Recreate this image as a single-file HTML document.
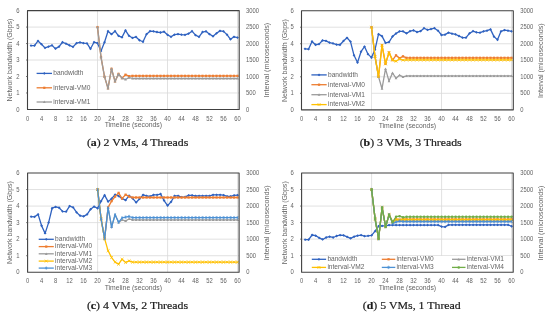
<!DOCTYPE html>
<html><head><meta charset="utf-8"><title>Interval and bandwidth charts</title>
<style>html,body{margin:0;padding:0;background:#fff;}body{width:550px;height:318px;overflow:hidden;}svg{display:block;}</style>
</head><body>
<svg width="550" height="318" viewBox="0 0 550 318"><path d="M27.5 92.97H239.2 M27.5 76.5H239.2 M27.5 60.02H239.2 M27.5 43.55H239.2 M27.5 27.08H239.2 M97.5 10.6V109.45 M167.5 10.6V109.45 M237.5 10.6V109.45" stroke="#d9d9d9" stroke-width="0.8" fill="none"/>
<path d="M31 45.53 L34.5 45.53 L38 40.91 L41.5 44.21 L45 47.83 L48.5 46.68 L52 45.36 L55.5 48.66 L59 46.68 L62.5 42.23 L66 43.71 L69.5 45.36 L73 46.84 L76.5 43.22 L80 42.4 L83.5 43.22 L87 43.39 L90.5 48.82 L94 42.23 L97.5 43.22 L101 50.96 L104.5 42.23 L108 31.19 L111.5 34.16 L115 31.19 L118.5 35.81 L122 37.29 L125.5 30.37 L129 35.81 L132.5 37.95 L136 36.96 L139.5 40.25 L143 41.74 L146.5 34.16 L150 31.19 L153.5 31.36 L157 32.02 L160.5 32.51 L164 31.69 L167.5 34.82 L171 36.8 L174.5 34.65 L178 34.16 L181.5 34.65 L185 34.82 L188.5 33.67 L192 31.19 L195.5 35.15 L199 36.8 L202.5 32.02 L206 31.36 L209.5 34.16 L213 36.3 L216.5 33.34 L220 30.86 L223.5 31.36 L227 34.65 L230.5 39.27 L234 36.8 L237.5 37.62" stroke="#2f62c0" stroke-width="1.3" fill="none" stroke-linejoin="round"/>
<path d="M31 44.13L32.4 45.53L31 46.93L29.6 45.53Z" fill="#2f62c0"/><path d="M34.5 44.13L35.9 45.53L34.5 46.93L33.1 45.53Z" fill="#2f62c0"/><path d="M38 39.51L39.4 40.91L38 42.31L36.6 40.91Z" fill="#2f62c0"/><path d="M41.5 42.81L42.9 44.21L41.5 45.61L40.1 44.21Z" fill="#2f62c0"/><path d="M45 46.43L46.4 47.83L45 49.23L43.6 47.83Z" fill="#2f62c0"/><path d="M48.5 45.28L49.9 46.68L48.5 48.08L47.1 46.68Z" fill="#2f62c0"/><path d="M52 43.96L53.4 45.36L52 46.76L50.6 45.36Z" fill="#2f62c0"/><path d="M55.5 47.26L56.9 48.66L55.5 50.06L54.1 48.66Z" fill="#2f62c0"/><path d="M59 45.28L60.4 46.68L59 48.08L57.6 46.68Z" fill="#2f62c0"/><path d="M62.5 40.83L63.9 42.23L62.5 43.63L61.1 42.23Z" fill="#2f62c0"/><path d="M66 42.31L67.4 43.71L66 45.11L64.6 43.71Z" fill="#2f62c0"/><path d="M69.5 43.96L70.9 45.36L69.5 46.76L68.1 45.36Z" fill="#2f62c0"/><path d="M73 45.45L74.4 46.84L73 48.24L71.6 46.84Z" fill="#2f62c0"/><path d="M76.5 41.82L77.9 43.22L76.5 44.62L75.1 43.22Z" fill="#2f62c0"/><path d="M80 41L81.4 42.4L80 43.8L78.6 42.4Z" fill="#2f62c0"/><path d="M83.5 41.82L84.9 43.22L83.5 44.62L82.1 43.22Z" fill="#2f62c0"/><path d="M87 41.99L88.4 43.39L87 44.79L85.6 43.39Z" fill="#2f62c0"/><path d="M90.5 47.42L91.9 48.82L90.5 50.22L89.1 48.82Z" fill="#2f62c0"/><path d="M94 40.83L95.4 42.23L94 43.63L92.6 42.23Z" fill="#2f62c0"/><path d="M97.5 41.82L98.9 43.22L97.5 44.62L96.1 43.22Z" fill="#2f62c0"/><path d="M101 49.56L102.4 50.96L101 52.36L99.6 50.96Z" fill="#2f62c0"/><path d="M104.5 40.83L105.9 42.23L104.5 43.63L103.1 42.23Z" fill="#2f62c0"/><path d="M108 29.79L109.4 31.19L108 32.59L106.6 31.19Z" fill="#2f62c0"/><path d="M111.5 32.76L112.9 34.16L111.5 35.56L110.1 34.16Z" fill="#2f62c0"/><path d="M115 29.79L116.4 31.19L115 32.59L113.6 31.19Z" fill="#2f62c0"/><path d="M118.5 34.41L119.9 35.81L118.5 37.21L117.1 35.81Z" fill="#2f62c0"/><path d="M122 35.89L123.4 37.29L122 38.69L120.6 37.29Z" fill="#2f62c0"/><path d="M125.5 28.97L126.9 30.37L125.5 31.77L124.1 30.37Z" fill="#2f62c0"/><path d="M129 34.41L130.4 35.81L129 37.21L127.6 35.81Z" fill="#2f62c0"/><path d="M132.5 36.55L133.9 37.95L132.5 39.35L131.1 37.95Z" fill="#2f62c0"/><path d="M136 35.56L137.4 36.96L136 38.36L134.6 36.96Z" fill="#2f62c0"/><path d="M139.5 38.85L140.9 40.25L139.5 41.65L138.1 40.25Z" fill="#2f62c0"/><path d="M143 40.34L144.4 41.74L143 43.14L141.6 41.74Z" fill="#2f62c0"/><path d="M146.5 32.76L147.9 34.16L146.5 35.56L145.1 34.16Z" fill="#2f62c0"/><path d="M150 29.79L151.4 31.19L150 32.59L148.6 31.19Z" fill="#2f62c0"/><path d="M153.5 29.96L154.9 31.36L153.5 32.76L152.1 31.36Z" fill="#2f62c0"/><path d="M157 30.62L158.4 32.02L157 33.42L155.6 32.02Z" fill="#2f62c0"/><path d="M160.5 31.11L161.9 32.51L160.5 33.91L159.1 32.51Z" fill="#2f62c0"/><path d="M164 30.29L165.4 31.69L164 33.09L162.6 31.69Z" fill="#2f62c0"/><path d="M167.5 33.42L168.9 34.82L167.5 36.22L166.1 34.82Z" fill="#2f62c0"/><path d="M171 35.4L172.4 36.8L171 38.2L169.6 36.8Z" fill="#2f62c0"/><path d="M174.5 33.25L175.9 34.65L174.5 36.05L173.1 34.65Z" fill="#2f62c0"/><path d="M178 32.76L179.4 34.16L178 35.56L176.6 34.16Z" fill="#2f62c0"/><path d="M181.5 33.25L182.9 34.65L181.5 36.05L180.1 34.65Z" fill="#2f62c0"/><path d="M185 33.42L186.4 34.82L185 36.22L183.6 34.82Z" fill="#2f62c0"/><path d="M188.5 32.27L189.9 33.67L188.5 35.07L187.1 33.67Z" fill="#2f62c0"/><path d="M192 29.79L193.4 31.19L192 32.59L190.6 31.19Z" fill="#2f62c0"/><path d="M195.5 33.75L196.9 35.15L195.5 36.55L194.1 35.15Z" fill="#2f62c0"/><path d="M199 35.4L200.4 36.8L199 38.2L197.6 36.8Z" fill="#2f62c0"/><path d="M202.5 30.62L203.9 32.02L202.5 33.42L201.1 32.02Z" fill="#2f62c0"/><path d="M206 29.96L207.4 31.36L206 32.76L204.6 31.36Z" fill="#2f62c0"/><path d="M209.5 32.76L210.9 34.16L209.5 35.56L208.1 34.16Z" fill="#2f62c0"/><path d="M213 34.9L214.4 36.3L213 37.7L211.6 36.3Z" fill="#2f62c0"/><path d="M216.5 31.94L217.9 33.34L216.5 34.74L215.1 33.34Z" fill="#2f62c0"/><path d="M220 29.46L221.4 30.86L220 32.26L218.6 30.86Z" fill="#2f62c0"/><path d="M223.5 29.96L224.9 31.36L223.5 32.76L222.1 31.36Z" fill="#2f62c0"/><path d="M227 33.25L228.4 34.65L227 36.05L225.6 34.65Z" fill="#2f62c0"/><path d="M230.5 37.87L231.9 39.27L230.5 40.67L229.1 39.27Z" fill="#2f62c0"/><path d="M234 35.4L235.4 36.8L234 38.2L232.6 36.8Z" fill="#2f62c0"/><path d="M237.5 36.22L238.9 37.62L237.5 39.02L236.1 37.62Z" fill="#2f62c0"/>
<path d="M97.5 27.08 L101 57.06 L104.5 76.66 L108 88.36 L111.5 68.76 L115 81.44 L118.5 73.86 L122 78.15 L125.5 74.69 L129 76.17 L132.5 75.84 L136 75.84 L139.5 75.84 L143 75.84 L146.5 75.84 L150 75.84 L153.5 75.84 L157 75.84 L160.5 75.84 L164 75.84 L167.5 75.84 L171 75.84 L174.5 75.84 L178 75.84 L181.5 75.84 L185 75.84 L188.5 75.84 L192 75.84 L195.5 75.84 L199 75.84 L202.5 75.84 L206 75.84 L209.5 75.84 L213 75.84 L216.5 75.84 L220 75.84 L223.5 75.84 L227 75.84 L230.5 75.84 L234 75.84 L237.5 75.84" stroke="#ed7d31" stroke-width="1.3" fill="none" stroke-linejoin="round"/>
<rect x="96.38" y="25.96" width="2.24" height="2.24" fill="#ed7d31"/><rect x="99.88" y="55.94" width="2.24" height="2.24" fill="#ed7d31"/><rect x="103.38" y="75.54" width="2.24" height="2.24" fill="#ed7d31"/><rect x="106.88" y="87.24" width="2.24" height="2.24" fill="#ed7d31"/><rect x="110.38" y="67.64" width="2.24" height="2.24" fill="#ed7d31"/><rect x="113.88" y="80.32" width="2.24" height="2.24" fill="#ed7d31"/><rect x="117.38" y="72.74" width="2.24" height="2.24" fill="#ed7d31"/><rect x="120.88" y="77.03" width="2.24" height="2.24" fill="#ed7d31"/><rect x="124.38" y="73.57" width="2.24" height="2.24" fill="#ed7d31"/><rect x="127.88" y="75.05" width="2.24" height="2.24" fill="#ed7d31"/><rect x="131.38" y="74.72" width="2.24" height="2.24" fill="#ed7d31"/><rect x="134.88" y="74.72" width="2.24" height="2.24" fill="#ed7d31"/><rect x="138.38" y="74.72" width="2.24" height="2.24" fill="#ed7d31"/><rect x="141.88" y="74.72" width="2.24" height="2.24" fill="#ed7d31"/><rect x="145.38" y="74.72" width="2.24" height="2.24" fill="#ed7d31"/><rect x="148.88" y="74.72" width="2.24" height="2.24" fill="#ed7d31"/><rect x="152.38" y="74.72" width="2.24" height="2.24" fill="#ed7d31"/><rect x="155.88" y="74.72" width="2.24" height="2.24" fill="#ed7d31"/><rect x="159.38" y="74.72" width="2.24" height="2.24" fill="#ed7d31"/><rect x="162.88" y="74.72" width="2.24" height="2.24" fill="#ed7d31"/><rect x="166.38" y="74.72" width="2.24" height="2.24" fill="#ed7d31"/><rect x="169.88" y="74.72" width="2.24" height="2.24" fill="#ed7d31"/><rect x="173.38" y="74.72" width="2.24" height="2.24" fill="#ed7d31"/><rect x="176.88" y="74.72" width="2.24" height="2.24" fill="#ed7d31"/><rect x="180.38" y="74.72" width="2.24" height="2.24" fill="#ed7d31"/><rect x="183.88" y="74.72" width="2.24" height="2.24" fill="#ed7d31"/><rect x="187.38" y="74.72" width="2.24" height="2.24" fill="#ed7d31"/><rect x="190.88" y="74.72" width="2.24" height="2.24" fill="#ed7d31"/><rect x="194.38" y="74.72" width="2.24" height="2.24" fill="#ed7d31"/><rect x="197.88" y="74.72" width="2.24" height="2.24" fill="#ed7d31"/><rect x="201.38" y="74.72" width="2.24" height="2.24" fill="#ed7d31"/><rect x="204.88" y="74.72" width="2.24" height="2.24" fill="#ed7d31"/><rect x="208.38" y="74.72" width="2.24" height="2.24" fill="#ed7d31"/><rect x="211.88" y="74.72" width="2.24" height="2.24" fill="#ed7d31"/><rect x="215.38" y="74.72" width="2.24" height="2.24" fill="#ed7d31"/><rect x="218.88" y="74.72" width="2.24" height="2.24" fill="#ed7d31"/><rect x="222.38" y="74.72" width="2.24" height="2.24" fill="#ed7d31"/><rect x="225.88" y="74.72" width="2.24" height="2.24" fill="#ed7d31"/><rect x="229.38" y="74.72" width="2.24" height="2.24" fill="#ed7d31"/><rect x="232.88" y="74.72" width="2.24" height="2.24" fill="#ed7d31"/><rect x="236.38" y="74.72" width="2.24" height="2.24" fill="#ed7d31"/>
<path d="M97.5 27.08 L101 57.06 L104.5 76.66 L108 88.36 L111.5 68.76 L115 81.44 L118.5 73.86 L122 78.15 L125.5 79.47 L129 77.65 L132.5 78.48 L136 78.48 L139.5 78.48 L143 78.48 L146.5 78.48 L150 78.48 L153.5 78.48 L157 78.48 L160.5 78.48 L164 78.48 L167.5 78.48 L171 78.48 L174.5 78.48 L178 78.48 L181.5 78.48 L185 78.48 L188.5 78.48 L192 78.48 L195.5 78.48 L199 78.48 L202.5 78.48 L206 78.48 L209.5 78.48 L213 78.48 L216.5 78.48 L220 78.48 L223.5 78.48 L227 78.48 L230.5 78.48 L234 78.48 L237.5 78.48" stroke="#9b9b9b" stroke-width="1.3" fill="none" stroke-linejoin="round"/>
<path d="M97.5 25.68L98.9 28.2L96.1 28.2Z" fill="#9b9b9b"/><path d="M101 55.66L102.4 58.18L99.6 58.18Z" fill="#9b9b9b"/><path d="M104.5 75.26L105.9 77.78L103.1 77.78Z" fill="#9b9b9b"/><path d="M108 86.96L109.4 89.48L106.6 89.48Z" fill="#9b9b9b"/><path d="M111.5 67.36L112.9 69.88L110.1 69.88Z" fill="#9b9b9b"/><path d="M115 80.04L116.4 82.56L113.6 82.56Z" fill="#9b9b9b"/><path d="M118.5 72.46L119.9 74.98L117.1 74.98Z" fill="#9b9b9b"/><path d="M122 76.75L123.4 79.27L120.6 79.27Z" fill="#9b9b9b"/><path d="M125.5 78.07L126.9 80.59L124.1 80.59Z" fill="#9b9b9b"/><path d="M129 76.25L130.4 78.77L127.6 78.77Z" fill="#9b9b9b"/><path d="M132.5 77.08L133.9 79.6L131.1 79.6Z" fill="#9b9b9b"/><path d="M136 77.08L137.4 79.6L134.6 79.6Z" fill="#9b9b9b"/><path d="M139.5 77.08L140.9 79.6L138.1 79.6Z" fill="#9b9b9b"/><path d="M143 77.08L144.4 79.6L141.6 79.6Z" fill="#9b9b9b"/><path d="M146.5 77.08L147.9 79.6L145.1 79.6Z" fill="#9b9b9b"/><path d="M150 77.08L151.4 79.6L148.6 79.6Z" fill="#9b9b9b"/><path d="M153.5 77.08L154.9 79.6L152.1 79.6Z" fill="#9b9b9b"/><path d="M157 77.08L158.4 79.6L155.6 79.6Z" fill="#9b9b9b"/><path d="M160.5 77.08L161.9 79.6L159.1 79.6Z" fill="#9b9b9b"/><path d="M164 77.08L165.4 79.6L162.6 79.6Z" fill="#9b9b9b"/><path d="M167.5 77.08L168.9 79.6L166.1 79.6Z" fill="#9b9b9b"/><path d="M171 77.08L172.4 79.6L169.6 79.6Z" fill="#9b9b9b"/><path d="M174.5 77.08L175.9 79.6L173.1 79.6Z" fill="#9b9b9b"/><path d="M178 77.08L179.4 79.6L176.6 79.6Z" fill="#9b9b9b"/><path d="M181.5 77.08L182.9 79.6L180.1 79.6Z" fill="#9b9b9b"/><path d="M185 77.08L186.4 79.6L183.6 79.6Z" fill="#9b9b9b"/><path d="M188.5 77.08L189.9 79.6L187.1 79.6Z" fill="#9b9b9b"/><path d="M192 77.08L193.4 79.6L190.6 79.6Z" fill="#9b9b9b"/><path d="M195.5 77.08L196.9 79.6L194.1 79.6Z" fill="#9b9b9b"/><path d="M199 77.08L200.4 79.6L197.6 79.6Z" fill="#9b9b9b"/><path d="M202.5 77.08L203.9 79.6L201.1 79.6Z" fill="#9b9b9b"/><path d="M206 77.08L207.4 79.6L204.6 79.6Z" fill="#9b9b9b"/><path d="M209.5 77.08L210.9 79.6L208.1 79.6Z" fill="#9b9b9b"/><path d="M213 77.08L214.4 79.6L211.6 79.6Z" fill="#9b9b9b"/><path d="M216.5 77.08L217.9 79.6L215.1 79.6Z" fill="#9b9b9b"/><path d="M220 77.08L221.4 79.6L218.6 79.6Z" fill="#9b9b9b"/><path d="M223.5 77.08L224.9 79.6L222.1 79.6Z" fill="#9b9b9b"/><path d="M227 77.08L228.4 79.6L225.6 79.6Z" fill="#9b9b9b"/><path d="M230.5 77.08L231.9 79.6L229.1 79.6Z" fill="#9b9b9b"/><path d="M234 77.08L235.4 79.6L232.6 79.6Z" fill="#9b9b9b"/><path d="M237.5 77.08L238.9 79.6L236.1 79.6Z" fill="#9b9b9b"/>
<rect x="28" y="64" width="69" height="44.6" fill="#fff"/>
<path d="M36.6 73.4H52" stroke="#2f62c0" stroke-width="1.3"/>
<path d="M44.3 72L45.7 73.4L44.3 74.8L42.9 73.4Z" fill="#2f62c0"/>
<text x="53.3" y="75.2" font-size="6.3" text-anchor="start" fill="#646464" font-family="'Liberation Sans', Arial, sans-serif" textLength="30" lengthAdjust="spacingAndGlyphs">bandwidth</text>
<path d="M36.6 87.8H52" stroke="#ed7d31" stroke-width="1.3"/>
<rect x="43.18" y="86.68" width="2.24" height="2.24" fill="#ed7d31"/>
<text x="53.3" y="89.6" font-size="6.3" text-anchor="start" fill="#646464" font-family="'Liberation Sans', Arial, sans-serif" textLength="37" lengthAdjust="spacingAndGlyphs">interval-VM0</text>
<path d="M36.6 102H52" stroke="#9b9b9b" stroke-width="1.3"/>
<path d="M44.3 100.6L45.7 103.12L42.9 103.12Z" fill="#9b9b9b"/>
<text x="53.3" y="103.8" font-size="6.3" text-anchor="start" fill="#646464" font-family="'Liberation Sans', Arial, sans-serif" textLength="37" lengthAdjust="spacingAndGlyphs">interval-VM1</text>
<rect x="27.5" y="10.6" width="211.7" height="98.85" fill="none" stroke="#404040" stroke-width="1.1" stroke-linejoin="round"/>
<path d="M26 92.97H27.5 M26 76.5H27.5 M26 60.02H27.5 M26 43.55H27.5 M26 27.08H27.5" stroke="#595959" stroke-width="0.8"/>
<text x="19.6" y="111.6" font-size="6.7" text-anchor="end" fill="#646464" font-family="'Liberation Sans', Arial, sans-serif" textLength="3.3" lengthAdjust="spacingAndGlyphs">0</text>
<text x="19.6" y="95.12" font-size="6.7" text-anchor="end" fill="#646464" font-family="'Liberation Sans', Arial, sans-serif" textLength="3.3" lengthAdjust="spacingAndGlyphs">1</text>
<text x="19.6" y="78.65" font-size="6.7" text-anchor="end" fill="#646464" font-family="'Liberation Sans', Arial, sans-serif" textLength="3.3" lengthAdjust="spacingAndGlyphs">2</text>
<text x="19.6" y="62.17" font-size="6.7" text-anchor="end" fill="#646464" font-family="'Liberation Sans', Arial, sans-serif" textLength="3.3" lengthAdjust="spacingAndGlyphs">3</text>
<text x="19.6" y="45.7" font-size="6.7" text-anchor="end" fill="#646464" font-family="'Liberation Sans', Arial, sans-serif" textLength="3.3" lengthAdjust="spacingAndGlyphs">4</text>
<text x="19.6" y="29.23" font-size="6.7" text-anchor="end" fill="#646464" font-family="'Liberation Sans', Arial, sans-serif" textLength="3.3" lengthAdjust="spacingAndGlyphs">5</text>
<text x="19.6" y="12.75" font-size="6.7" text-anchor="end" fill="#646464" font-family="'Liberation Sans', Arial, sans-serif" textLength="3.3" lengthAdjust="spacingAndGlyphs">6</text>
<text x="245.9" y="111.6" font-size="6.7" text-anchor="start" fill="#646464" font-family="'Liberation Sans', Arial, sans-serif" textLength="3.25" lengthAdjust="spacingAndGlyphs">0</text>
<text x="245.9" y="95.12" font-size="6.7" text-anchor="start" fill="#646464" font-family="'Liberation Sans', Arial, sans-serif" textLength="9.75" lengthAdjust="spacingAndGlyphs">500</text>
<text x="245.9" y="78.65" font-size="6.7" text-anchor="start" fill="#646464" font-family="'Liberation Sans', Arial, sans-serif" textLength="13" lengthAdjust="spacingAndGlyphs">1000</text>
<text x="245.9" y="62.17" font-size="6.7" text-anchor="start" fill="#646464" font-family="'Liberation Sans', Arial, sans-serif" textLength="13" lengthAdjust="spacingAndGlyphs">1500</text>
<text x="245.9" y="45.7" font-size="6.7" text-anchor="start" fill="#646464" font-family="'Liberation Sans', Arial, sans-serif" textLength="13" lengthAdjust="spacingAndGlyphs">2000</text>
<text x="245.9" y="29.23" font-size="6.7" text-anchor="start" fill="#646464" font-family="'Liberation Sans', Arial, sans-serif" textLength="13" lengthAdjust="spacingAndGlyphs">2500</text>
<text x="245.9" y="12.75" font-size="6.7" text-anchor="start" fill="#646464" font-family="'Liberation Sans', Arial, sans-serif" textLength="13" lengthAdjust="spacingAndGlyphs">3000</text>
<text x="27.5" y="120.9" font-size="6.4" text-anchor="middle" fill="#646464" font-family="'Liberation Sans', Arial, sans-serif" textLength="3.25" lengthAdjust="spacingAndGlyphs">0</text>
<text x="41.5" y="120.9" font-size="6.4" text-anchor="middle" fill="#646464" font-family="'Liberation Sans', Arial, sans-serif" textLength="3.25" lengthAdjust="spacingAndGlyphs">4</text>
<text x="55.5" y="120.9" font-size="6.4" text-anchor="middle" fill="#646464" font-family="'Liberation Sans', Arial, sans-serif" textLength="3.25" lengthAdjust="spacingAndGlyphs">8</text>
<text x="69.5" y="120.9" font-size="6.4" text-anchor="middle" fill="#646464" font-family="'Liberation Sans', Arial, sans-serif" textLength="6.5" lengthAdjust="spacingAndGlyphs">12</text>
<text x="83.5" y="120.9" font-size="6.4" text-anchor="middle" fill="#646464" font-family="'Liberation Sans', Arial, sans-serif" textLength="6.5" lengthAdjust="spacingAndGlyphs">16</text>
<text x="97.5" y="120.9" font-size="6.4" text-anchor="middle" fill="#646464" font-family="'Liberation Sans', Arial, sans-serif" textLength="6.5" lengthAdjust="spacingAndGlyphs">20</text>
<text x="111.5" y="120.9" font-size="6.4" text-anchor="middle" fill="#646464" font-family="'Liberation Sans', Arial, sans-serif" textLength="6.5" lengthAdjust="spacingAndGlyphs">24</text>
<text x="125.5" y="120.9" font-size="6.4" text-anchor="middle" fill="#646464" font-family="'Liberation Sans', Arial, sans-serif" textLength="6.5" lengthAdjust="spacingAndGlyphs">28</text>
<text x="139.5" y="120.9" font-size="6.4" text-anchor="middle" fill="#646464" font-family="'Liberation Sans', Arial, sans-serif" textLength="6.5" lengthAdjust="spacingAndGlyphs">32</text>
<text x="153.5" y="120.9" font-size="6.4" text-anchor="middle" fill="#646464" font-family="'Liberation Sans', Arial, sans-serif" textLength="6.5" lengthAdjust="spacingAndGlyphs">36</text>
<text x="167.5" y="120.9" font-size="6.4" text-anchor="middle" fill="#646464" font-family="'Liberation Sans', Arial, sans-serif" textLength="6.5" lengthAdjust="spacingAndGlyphs">40</text>
<text x="181.5" y="120.9" font-size="6.4" text-anchor="middle" fill="#646464" font-family="'Liberation Sans', Arial, sans-serif" textLength="6.5" lengthAdjust="spacingAndGlyphs">44</text>
<text x="195.5" y="120.9" font-size="6.4" text-anchor="middle" fill="#646464" font-family="'Liberation Sans', Arial, sans-serif" textLength="6.5" lengthAdjust="spacingAndGlyphs">48</text>
<text x="209.5" y="120.9" font-size="6.4" text-anchor="middle" fill="#646464" font-family="'Liberation Sans', Arial, sans-serif" textLength="6.5" lengthAdjust="spacingAndGlyphs">52</text>
<text x="223.5" y="120.9" font-size="6.4" text-anchor="middle" fill="#646464" font-family="'Liberation Sans', Arial, sans-serif" textLength="6.5" lengthAdjust="spacingAndGlyphs">56</text>
<text x="237.5" y="120.9" font-size="6.4" text-anchor="middle" fill="#646464" font-family="'Liberation Sans', Arial, sans-serif" textLength="6.5" lengthAdjust="spacingAndGlyphs">60</text>
<text x="133.35" y="127" font-size="7.2" text-anchor="middle" fill="#646464" font-family="'Liberation Sans', Arial, sans-serif" textLength="57.4" lengthAdjust="spacingAndGlyphs">Timeline (seconds)</text>
<text transform="translate(12.4 60.1) rotate(-90)" x="0" y="0" font-size="6.6" text-anchor="middle" fill="#646464" font-family="'Liberation Sans', Arial, sans-serif" textLength="83" lengthAdjust="spacingAndGlyphs">Network bandwidth (Gbps)</text>
<text transform="translate(269.3 60.2) rotate(-90)" x="0" y="0" font-size="6.6" text-anchor="middle" fill="#646464" font-family="'Liberation Sans', Arial, sans-serif" textLength="74.8" lengthAdjust="spacingAndGlyphs">Interval (microseconds)</text>
<text x="86.9" y="146.1" font-size="10.6" fill="#1a1a1a" stroke="#1a1a1a" stroke-width="0.18" font-family="'Liberation Serif', 'Times New Roman', serif" textLength="101.4" lengthAdjust="spacingAndGlyphs">(<tspan font-weight="bold">a</tspan>) 2 VMs, 4 Threads</text>
<path d="M301.5 93.32H513.3 M301.5 76.8H513.3 M301.5 60.27H513.3 M301.5 43.75H513.3 M301.5 27.22H513.3 M371.5 10.7V109.85 M441.5 10.7V109.85 M511.5 10.7V109.85" stroke="#d9d9d9" stroke-width="0.8" fill="none"/>
<path d="M305 48.87 L308.5 49.2 L312 41.44 L315.5 44.74 L319 44.08 L322.5 40.44 L326 40.94 L329.5 42.59 L333 43.42 L336.5 44.58 L340 44.74 L343.5 40.94 L347 37.8 L350.5 41.6 L354 55.32 L357.5 62.59 L361 51.68 L364.5 46.56 L368 54.16 L371.5 57.63 L375 49.53 L378.5 34.17 L382 36.15 L385.5 42.92 L389 42.1 L392.5 36.48 L396 33.5 L399.5 31.36 L403 31.36 L406.5 33.34 L410 31.19 L413.5 30.36 L417 32.02 L420.5 31.19 L424 28.22 L427.5 29.87 L431 29.04 L434.5 28.22 L438 30.7 L441.5 34.99 L445 34.66 L448.5 32.68 L452 33.67 L455.5 34.33 L459 35.98 L462.5 37.64 L466 37.64 L469.5 33.34 L473 31.19 L476.5 32.35 L480 32.68 L483.5 31.36 L487 30.7 L490.5 29.37 L494 36.64 L497.5 39.78 L501 31.36 L504.5 30.03 L508 30.7 L511.5 31.36" stroke="#2f62c0" stroke-width="1.3" fill="none" stroke-linejoin="round"/>
<path d="M305 47.47L306.4 48.87L305 50.27L303.6 48.87Z" fill="#2f62c0"/><path d="M308.5 47.8L309.9 49.2L308.5 50.6L307.1 49.2Z" fill="#2f62c0"/><path d="M312 40.04L313.4 41.44L312 42.84L310.6 41.44Z" fill="#2f62c0"/><path d="M315.5 43.34L316.9 44.74L315.5 46.14L314.1 44.74Z" fill="#2f62c0"/><path d="M319 42.68L320.4 44.08L319 45.48L317.6 44.08Z" fill="#2f62c0"/><path d="M322.5 39.04L323.9 40.44L322.5 41.84L321.1 40.44Z" fill="#2f62c0"/><path d="M326 39.54L327.4 40.94L326 42.34L324.6 40.94Z" fill="#2f62c0"/><path d="M329.5 41.19L330.9 42.59L329.5 43.99L328.1 42.59Z" fill="#2f62c0"/><path d="M333 42.02L334.4 43.42L333 44.82L331.6 43.42Z" fill="#2f62c0"/><path d="M336.5 43.18L337.9 44.58L336.5 45.98L335.1 44.58Z" fill="#2f62c0"/><path d="M340 43.34L341.4 44.74L340 46.14L338.6 44.74Z" fill="#2f62c0"/><path d="M343.5 39.54L344.9 40.94L343.5 42.34L342.1 40.94Z" fill="#2f62c0"/><path d="M347 36.4L348.4 37.8L347 39.2L345.6 37.8Z" fill="#2f62c0"/><path d="M350.5 40.2L351.9 41.6L350.5 43L349.1 41.6Z" fill="#2f62c0"/><path d="M354 53.92L355.4 55.32L354 56.72L352.6 55.32Z" fill="#2f62c0"/><path d="M357.5 61.19L358.9 62.59L357.5 63.99L356.1 62.59Z" fill="#2f62c0"/><path d="M361 50.28L362.4 51.68L361 53.08L359.6 51.68Z" fill="#2f62c0"/><path d="M364.5 45.16L365.9 46.56L364.5 47.96L363.1 46.56Z" fill="#2f62c0"/><path d="M368 52.76L369.4 54.16L368 55.56L366.6 54.16Z" fill="#2f62c0"/><path d="M371.5 56.23L372.9 57.63L371.5 59.03L370.1 57.63Z" fill="#2f62c0"/><path d="M375 48.13L376.4 49.53L375 50.93L373.6 49.53Z" fill="#2f62c0"/><path d="M378.5 32.77L379.9 34.17L378.5 35.57L377.1 34.17Z" fill="#2f62c0"/><path d="M382 34.75L383.4 36.15L382 37.55L380.6 36.15Z" fill="#2f62c0"/><path d="M385.5 41.52L386.9 42.92L385.5 44.32L384.1 42.92Z" fill="#2f62c0"/><path d="M389 40.7L390.4 42.1L389 43.5L387.6 42.1Z" fill="#2f62c0"/><path d="M392.5 35.08L393.9 36.48L392.5 37.88L391.1 36.48Z" fill="#2f62c0"/><path d="M396 32.1L397.4 33.5L396 34.9L394.6 33.5Z" fill="#2f62c0"/><path d="M399.5 29.96L400.9 31.36L399.5 32.76L398.1 31.36Z" fill="#2f62c0"/><path d="M403 29.96L404.4 31.36L403 32.76L401.6 31.36Z" fill="#2f62c0"/><path d="M406.5 31.94L407.9 33.34L406.5 34.74L405.1 33.34Z" fill="#2f62c0"/><path d="M410 29.79L411.4 31.19L410 32.59L408.6 31.19Z" fill="#2f62c0"/><path d="M413.5 28.96L414.9 30.36L413.5 31.76L412.1 30.36Z" fill="#2f62c0"/><path d="M417 30.62L418.4 32.02L417 33.42L415.6 32.02Z" fill="#2f62c0"/><path d="M420.5 29.79L421.9 31.19L420.5 32.59L419.1 31.19Z" fill="#2f62c0"/><path d="M424 26.82L425.4 28.22L424 29.62L422.6 28.22Z" fill="#2f62c0"/><path d="M427.5 28.47L428.9 29.87L427.5 31.27L426.1 29.87Z" fill="#2f62c0"/><path d="M431 27.64L432.4 29.04L431 30.44L429.6 29.04Z" fill="#2f62c0"/><path d="M434.5 26.82L435.9 28.22L434.5 29.62L433.1 28.22Z" fill="#2f62c0"/><path d="M438 29.3L439.4 30.7L438 32.1L436.6 30.7Z" fill="#2f62c0"/><path d="M441.5 33.59L442.9 34.99L441.5 36.39L440.1 34.99Z" fill="#2f62c0"/><path d="M445 33.26L446.4 34.66L445 36.06L443.6 34.66Z" fill="#2f62c0"/><path d="M448.5 31.28L449.9 32.68L448.5 34.08L447.1 32.68Z" fill="#2f62c0"/><path d="M452 32.27L453.4 33.67L452 35.07L450.6 33.67Z" fill="#2f62c0"/><path d="M455.5 32.93L456.9 34.33L455.5 35.73L454.1 34.33Z" fill="#2f62c0"/><path d="M459 34.58L460.4 35.98L459 37.38L457.6 35.98Z" fill="#2f62c0"/><path d="M462.5 36.24L463.9 37.64L462.5 39.04L461.1 37.64Z" fill="#2f62c0"/><path d="M466 36.24L467.4 37.64L466 39.04L464.6 37.64Z" fill="#2f62c0"/><path d="M469.5 31.94L470.9 33.34L469.5 34.74L468.1 33.34Z" fill="#2f62c0"/><path d="M473 29.79L474.4 31.19L473 32.59L471.6 31.19Z" fill="#2f62c0"/><path d="M476.5 30.95L477.9 32.35L476.5 33.75L475.1 32.35Z" fill="#2f62c0"/><path d="M480 31.28L481.4 32.68L480 34.08L478.6 32.68Z" fill="#2f62c0"/><path d="M483.5 29.96L484.9 31.36L483.5 32.76L482.1 31.36Z" fill="#2f62c0"/><path d="M487 29.3L488.4 30.7L487 32.1L485.6 30.7Z" fill="#2f62c0"/><path d="M490.5 27.97L491.9 29.37L490.5 30.77L489.1 29.37Z" fill="#2f62c0"/><path d="M494 35.24L495.4 36.64L494 38.04L492.6 36.64Z" fill="#2f62c0"/><path d="M497.5 38.38L498.9 39.78L497.5 41.18L496.1 39.78Z" fill="#2f62c0"/><path d="M501 29.96L502.4 31.36L501 32.76L499.6 31.36Z" fill="#2f62c0"/><path d="M504.5 28.63L505.9 30.03L504.5 31.43L503.1 30.03Z" fill="#2f62c0"/><path d="M508 29.3L509.4 30.7L508 32.1L506.6 30.7Z" fill="#2f62c0"/><path d="M511.5 29.96L512.9 31.36L511.5 32.76L510.1 31.36Z" fill="#2f62c0"/>
<path d="M371.5 27.22 L375 56.47 L378.5 76.63 L382 45.24 L385.5 63.91 L389 52.51 L392.5 60.11 L396 55.32 L399.5 58.13 L403 56.31 L406.5 57.8 L410 57.8 L413.5 57.8 L417 57.8 L420.5 57.8 L424 57.8 L427.5 57.8 L431 57.8 L434.5 57.8 L438 57.8 L441.5 57.8 L445 57.8 L448.5 57.8 L452 57.8 L455.5 57.8 L459 57.8 L462.5 57.8 L466 57.8 L469.5 57.8 L473 57.8 L476.5 57.8 L480 57.8 L483.5 57.8 L487 57.8 L490.5 57.8 L494 57.8 L497.5 57.8 L501 57.8 L504.5 57.8 L508 57.8 L511.5 57.8" stroke="#ed7d31" stroke-width="1.3" fill="none" stroke-linejoin="round"/>
<rect x="370.38" y="26.1" width="2.24" height="2.24" fill="#ed7d31"/><rect x="373.88" y="55.35" width="2.24" height="2.24" fill="#ed7d31"/><rect x="377.38" y="75.51" width="2.24" height="2.24" fill="#ed7d31"/><rect x="380.88" y="44.12" width="2.24" height="2.24" fill="#ed7d31"/><rect x="384.38" y="62.79" width="2.24" height="2.24" fill="#ed7d31"/><rect x="387.88" y="51.39" width="2.24" height="2.24" fill="#ed7d31"/><rect x="391.38" y="58.99" width="2.24" height="2.24" fill="#ed7d31"/><rect x="394.88" y="54.2" width="2.24" height="2.24" fill="#ed7d31"/><rect x="398.38" y="57.01" width="2.24" height="2.24" fill="#ed7d31"/><rect x="401.88" y="55.19" width="2.24" height="2.24" fill="#ed7d31"/><rect x="405.38" y="56.68" width="2.24" height="2.24" fill="#ed7d31"/><rect x="408.88" y="56.68" width="2.24" height="2.24" fill="#ed7d31"/><rect x="412.38" y="56.68" width="2.24" height="2.24" fill="#ed7d31"/><rect x="415.88" y="56.68" width="2.24" height="2.24" fill="#ed7d31"/><rect x="419.38" y="56.68" width="2.24" height="2.24" fill="#ed7d31"/><rect x="422.88" y="56.68" width="2.24" height="2.24" fill="#ed7d31"/><rect x="426.38" y="56.68" width="2.24" height="2.24" fill="#ed7d31"/><rect x="429.88" y="56.68" width="2.24" height="2.24" fill="#ed7d31"/><rect x="433.38" y="56.68" width="2.24" height="2.24" fill="#ed7d31"/><rect x="436.88" y="56.68" width="2.24" height="2.24" fill="#ed7d31"/><rect x="440.38" y="56.68" width="2.24" height="2.24" fill="#ed7d31"/><rect x="443.88" y="56.68" width="2.24" height="2.24" fill="#ed7d31"/><rect x="447.38" y="56.68" width="2.24" height="2.24" fill="#ed7d31"/><rect x="450.88" y="56.68" width="2.24" height="2.24" fill="#ed7d31"/><rect x="454.38" y="56.68" width="2.24" height="2.24" fill="#ed7d31"/><rect x="457.88" y="56.68" width="2.24" height="2.24" fill="#ed7d31"/><rect x="461.38" y="56.68" width="2.24" height="2.24" fill="#ed7d31"/><rect x="464.88" y="56.68" width="2.24" height="2.24" fill="#ed7d31"/><rect x="468.38" y="56.68" width="2.24" height="2.24" fill="#ed7d31"/><rect x="471.88" y="56.68" width="2.24" height="2.24" fill="#ed7d31"/><rect x="475.38" y="56.68" width="2.24" height="2.24" fill="#ed7d31"/><rect x="478.88" y="56.68" width="2.24" height="2.24" fill="#ed7d31"/><rect x="482.38" y="56.68" width="2.24" height="2.24" fill="#ed7d31"/><rect x="485.88" y="56.68" width="2.24" height="2.24" fill="#ed7d31"/><rect x="489.38" y="56.68" width="2.24" height="2.24" fill="#ed7d31"/><rect x="492.88" y="56.68" width="2.24" height="2.24" fill="#ed7d31"/><rect x="496.38" y="56.68" width="2.24" height="2.24" fill="#ed7d31"/><rect x="499.88" y="56.68" width="2.24" height="2.24" fill="#ed7d31"/><rect x="503.38" y="56.68" width="2.24" height="2.24" fill="#ed7d31"/><rect x="506.88" y="56.68" width="2.24" height="2.24" fill="#ed7d31"/><rect x="510.38" y="56.68" width="2.24" height="2.24" fill="#ed7d31"/>
<path d="M371.5 27.22 L375 56.47 L378.5 76.63 L382 88.7 L385.5 68.87 L389 81.1 L392.5 73 L396 78.22 L399.5 75.15 L403 76.8 L406.5 75.97 L410 75.97 L413.5 75.97 L417 75.97 L420.5 75.97 L424 75.97 L427.5 75.97 L431 75.97 L434.5 75.97 L438 75.97 L441.5 75.97 L445 75.97 L448.5 75.97 L452 75.97 L455.5 75.97 L459 75.97 L462.5 75.97 L466 75.97 L469.5 75.97 L473 75.97 L476.5 75.97 L480 75.97 L483.5 75.97 L487 75.97 L490.5 75.97 L494 75.97 L497.5 75.97 L501 75.97 L504.5 75.97 L508 75.97 L511.5 75.97" stroke="#9b9b9b" stroke-width="1.3" fill="none" stroke-linejoin="round"/>
<path d="M371.5 25.82L372.9 28.34L370.1 28.34Z" fill="#9b9b9b"/><path d="M375 55.07L376.4 57.59L373.6 57.59Z" fill="#9b9b9b"/><path d="M378.5 75.23L379.9 77.75L377.1 77.75Z" fill="#9b9b9b"/><path d="M382 87.3L383.4 89.82L380.6 89.82Z" fill="#9b9b9b"/><path d="M385.5 67.47L386.9 69.99L384.1 69.99Z" fill="#9b9b9b"/><path d="M389 79.7L390.4 82.22L387.6 82.22Z" fill="#9b9b9b"/><path d="M392.5 71.6L393.9 74.12L391.1 74.12Z" fill="#9b9b9b"/><path d="M396 76.82L397.4 79.34L394.6 79.34Z" fill="#9b9b9b"/><path d="M399.5 73.75L400.9 76.27L398.1 76.27Z" fill="#9b9b9b"/><path d="M403 75.4L404.4 77.92L401.6 77.92Z" fill="#9b9b9b"/><path d="M406.5 74.57L407.9 77.09L405.1 77.09Z" fill="#9b9b9b"/><path d="M410 74.57L411.4 77.09L408.6 77.09Z" fill="#9b9b9b"/><path d="M413.5 74.57L414.9 77.09L412.1 77.09Z" fill="#9b9b9b"/><path d="M417 74.57L418.4 77.09L415.6 77.09Z" fill="#9b9b9b"/><path d="M420.5 74.57L421.9 77.09L419.1 77.09Z" fill="#9b9b9b"/><path d="M424 74.57L425.4 77.09L422.6 77.09Z" fill="#9b9b9b"/><path d="M427.5 74.57L428.9 77.09L426.1 77.09Z" fill="#9b9b9b"/><path d="M431 74.57L432.4 77.09L429.6 77.09Z" fill="#9b9b9b"/><path d="M434.5 74.57L435.9 77.09L433.1 77.09Z" fill="#9b9b9b"/><path d="M438 74.57L439.4 77.09L436.6 77.09Z" fill="#9b9b9b"/><path d="M441.5 74.57L442.9 77.09L440.1 77.09Z" fill="#9b9b9b"/><path d="M445 74.57L446.4 77.09L443.6 77.09Z" fill="#9b9b9b"/><path d="M448.5 74.57L449.9 77.09L447.1 77.09Z" fill="#9b9b9b"/><path d="M452 74.57L453.4 77.09L450.6 77.09Z" fill="#9b9b9b"/><path d="M455.5 74.57L456.9 77.09L454.1 77.09Z" fill="#9b9b9b"/><path d="M459 74.57L460.4 77.09L457.6 77.09Z" fill="#9b9b9b"/><path d="M462.5 74.57L463.9 77.09L461.1 77.09Z" fill="#9b9b9b"/><path d="M466 74.57L467.4 77.09L464.6 77.09Z" fill="#9b9b9b"/><path d="M469.5 74.57L470.9 77.09L468.1 77.09Z" fill="#9b9b9b"/><path d="M473 74.57L474.4 77.09L471.6 77.09Z" fill="#9b9b9b"/><path d="M476.5 74.57L477.9 77.09L475.1 77.09Z" fill="#9b9b9b"/><path d="M480 74.57L481.4 77.09L478.6 77.09Z" fill="#9b9b9b"/><path d="M483.5 74.57L484.9 77.09L482.1 77.09Z" fill="#9b9b9b"/><path d="M487 74.57L488.4 77.09L485.6 77.09Z" fill="#9b9b9b"/><path d="M490.5 74.57L491.9 77.09L489.1 77.09Z" fill="#9b9b9b"/><path d="M494 74.57L495.4 77.09L492.6 77.09Z" fill="#9b9b9b"/><path d="M497.5 74.57L498.9 77.09L496.1 77.09Z" fill="#9b9b9b"/><path d="M501 74.57L502.4 77.09L499.6 77.09Z" fill="#9b9b9b"/><path d="M504.5 74.57L505.9 77.09L503.1 77.09Z" fill="#9b9b9b"/><path d="M508 74.57L509.4 77.09L506.6 77.09Z" fill="#9b9b9b"/><path d="M511.5 74.57L512.9 77.09L510.1 77.09Z" fill="#9b9b9b"/>
<path d="M371.5 27.22 L375 56.47 L378.5 76.63 L382 45.24 L385.5 63.91 L389 52.51 L392.5 60.11 L396 61.27 L399.5 58.95 L403 60.11 L406.5 59.94 L410 59.94 L413.5 59.94 L417 59.94 L420.5 59.94 L424 59.94 L427.5 59.94 L431 59.94 L434.5 59.94 L438 59.94 L441.5 59.94 L445 59.94 L448.5 59.94 L452 59.94 L455.5 59.94 L459 59.94 L462.5 59.94 L466 59.94 L469.5 59.94 L473 59.94 L476.5 59.94 L480 59.94 L483.5 59.94 L487 59.94 L490.5 59.94 L494 59.94 L497.5 59.94 L501 59.94 L504.5 59.94 L508 59.94 L511.5 59.94" stroke="#ffc000" stroke-width="1.3" fill="none" stroke-linejoin="round"/>
<path d="M370.1 25.82L372.9 28.62M372.9 25.82L370.1 28.62" stroke="#ffc000" stroke-width="0.8" fill="none"/><path d="M373.6 55.07L376.4 57.87M376.4 55.07L373.6 57.87" stroke="#ffc000" stroke-width="0.8" fill="none"/><path d="M377.1 75.23L379.9 78.03M379.9 75.23L377.1 78.03" stroke="#ffc000" stroke-width="0.8" fill="none"/><path d="M380.6 43.84L383.4 46.64M383.4 43.84L380.6 46.64" stroke="#ffc000" stroke-width="0.8" fill="none"/><path d="M384.1 62.51L386.9 65.31M386.9 62.51L384.1 65.31" stroke="#ffc000" stroke-width="0.8" fill="none"/><path d="M387.6 51.11L390.4 53.91M390.4 51.11L387.6 53.91" stroke="#ffc000" stroke-width="0.8" fill="none"/><path d="M391.1 58.71L393.9 61.51M393.9 58.71L391.1 61.51" stroke="#ffc000" stroke-width="0.8" fill="none"/><path d="M394.6 59.87L397.4 62.67M397.4 59.87L394.6 62.67" stroke="#ffc000" stroke-width="0.8" fill="none"/><path d="M398.1 57.55L400.9 60.35M400.9 57.55L398.1 60.35" stroke="#ffc000" stroke-width="0.8" fill="none"/><path d="M401.6 58.71L404.4 61.51M404.4 58.71L401.6 61.51" stroke="#ffc000" stroke-width="0.8" fill="none"/><path d="M405.1 58.54L407.9 61.34M407.9 58.54L405.1 61.34" stroke="#ffc000" stroke-width="0.8" fill="none"/><path d="M408.6 58.54L411.4 61.34M411.4 58.54L408.6 61.34" stroke="#ffc000" stroke-width="0.8" fill="none"/><path d="M412.1 58.54L414.9 61.34M414.9 58.54L412.1 61.34" stroke="#ffc000" stroke-width="0.8" fill="none"/><path d="M415.6 58.54L418.4 61.34M418.4 58.54L415.6 61.34" stroke="#ffc000" stroke-width="0.8" fill="none"/><path d="M419.1 58.54L421.9 61.34M421.9 58.54L419.1 61.34" stroke="#ffc000" stroke-width="0.8" fill="none"/><path d="M422.6 58.54L425.4 61.34M425.4 58.54L422.6 61.34" stroke="#ffc000" stroke-width="0.8" fill="none"/><path d="M426.1 58.54L428.9 61.34M428.9 58.54L426.1 61.34" stroke="#ffc000" stroke-width="0.8" fill="none"/><path d="M429.6 58.54L432.4 61.34M432.4 58.54L429.6 61.34" stroke="#ffc000" stroke-width="0.8" fill="none"/><path d="M433.1 58.54L435.9 61.34M435.9 58.54L433.1 61.34" stroke="#ffc000" stroke-width="0.8" fill="none"/><path d="M436.6 58.54L439.4 61.34M439.4 58.54L436.6 61.34" stroke="#ffc000" stroke-width="0.8" fill="none"/><path d="M440.1 58.54L442.9 61.34M442.9 58.54L440.1 61.34" stroke="#ffc000" stroke-width="0.8" fill="none"/><path d="M443.6 58.54L446.4 61.34M446.4 58.54L443.6 61.34" stroke="#ffc000" stroke-width="0.8" fill="none"/><path d="M447.1 58.54L449.9 61.34M449.9 58.54L447.1 61.34" stroke="#ffc000" stroke-width="0.8" fill="none"/><path d="M450.6 58.54L453.4 61.34M453.4 58.54L450.6 61.34" stroke="#ffc000" stroke-width="0.8" fill="none"/><path d="M454.1 58.54L456.9 61.34M456.9 58.54L454.1 61.34" stroke="#ffc000" stroke-width="0.8" fill="none"/><path d="M457.6 58.54L460.4 61.34M460.4 58.54L457.6 61.34" stroke="#ffc000" stroke-width="0.8" fill="none"/><path d="M461.1 58.54L463.9 61.34M463.9 58.54L461.1 61.34" stroke="#ffc000" stroke-width="0.8" fill="none"/><path d="M464.6 58.54L467.4 61.34M467.4 58.54L464.6 61.34" stroke="#ffc000" stroke-width="0.8" fill="none"/><path d="M468.1 58.54L470.9 61.34M470.9 58.54L468.1 61.34" stroke="#ffc000" stroke-width="0.8" fill="none"/><path d="M471.6 58.54L474.4 61.34M474.4 58.54L471.6 61.34" stroke="#ffc000" stroke-width="0.8" fill="none"/><path d="M475.1 58.54L477.9 61.34M477.9 58.54L475.1 61.34" stroke="#ffc000" stroke-width="0.8" fill="none"/><path d="M478.6 58.54L481.4 61.34M481.4 58.54L478.6 61.34" stroke="#ffc000" stroke-width="0.8" fill="none"/><path d="M482.1 58.54L484.9 61.34M484.9 58.54L482.1 61.34" stroke="#ffc000" stroke-width="0.8" fill="none"/><path d="M485.6 58.54L488.4 61.34M488.4 58.54L485.6 61.34" stroke="#ffc000" stroke-width="0.8" fill="none"/><path d="M489.1 58.54L491.9 61.34M491.9 58.54L489.1 61.34" stroke="#ffc000" stroke-width="0.8" fill="none"/><path d="M492.6 58.54L495.4 61.34M495.4 58.54L492.6 61.34" stroke="#ffc000" stroke-width="0.8" fill="none"/><path d="M496.1 58.54L498.9 61.34M498.9 58.54L496.1 61.34" stroke="#ffc000" stroke-width="0.8" fill="none"/><path d="M499.6 58.54L502.4 61.34M502.4 58.54L499.6 61.34" stroke="#ffc000" stroke-width="0.8" fill="none"/><path d="M503.1 58.54L505.9 61.34M505.9 58.54L503.1 61.34" stroke="#ffc000" stroke-width="0.8" fill="none"/><path d="M506.6 58.54L509.4 61.34M509.4 58.54L506.6 61.34" stroke="#ffc000" stroke-width="0.8" fill="none"/><path d="M510.1 58.54L512.9 61.34M512.9 58.54L510.1 61.34" stroke="#ffc000" stroke-width="0.8" fill="none"/>
<rect x="302" y="64" width="69.1" height="45.3" fill="#fff"/>
<path d="M311.4 74.9H326.7" stroke="#2f62c0" stroke-width="1.3"/>
<path d="M319.05 73.5L320.45 74.9L319.05 76.3L317.65 74.9Z" fill="#2f62c0"/>
<text x="328" y="76.7" font-size="6.3" text-anchor="start" fill="#646464" font-family="'Liberation Sans', Arial, sans-serif" textLength="30" lengthAdjust="spacingAndGlyphs">bandwidth</text>
<path d="M311.4 84.7H326.7" stroke="#ed7d31" stroke-width="1.3"/>
<rect x="317.93" y="83.58" width="2.24" height="2.24" fill="#ed7d31"/>
<text x="328" y="86.5" font-size="6.3" text-anchor="start" fill="#646464" font-family="'Liberation Sans', Arial, sans-serif" textLength="37" lengthAdjust="spacingAndGlyphs">interval-VM0</text>
<path d="M311.4 94.7H326.7" stroke="#9b9b9b" stroke-width="1.3"/>
<path d="M319.05 93.3L320.45 95.82L317.65 95.82Z" fill="#9b9b9b"/>
<text x="328" y="96.5" font-size="6.3" text-anchor="start" fill="#646464" font-family="'Liberation Sans', Arial, sans-serif" textLength="37" lengthAdjust="spacingAndGlyphs">interval-VM1</text>
<path d="M311.4 104.6H326.7" stroke="#ffc000" stroke-width="1.3"/>
<path d="M317.65 103.2L320.45 106M320.45 103.2L317.65 106" stroke="#ffc000" stroke-width="0.8" fill="none"/>
<text x="328" y="106.4" font-size="6.3" text-anchor="start" fill="#646464" font-family="'Liberation Sans', Arial, sans-serif" textLength="37" lengthAdjust="spacingAndGlyphs">interval-VM2</text>
<rect x="301.5" y="10.7" width="211.8" height="99.15" fill="none" stroke="#404040" stroke-width="1.1" stroke-linejoin="round"/>
<path d="M300 93.32H301.5 M300 76.8H301.5 M300 60.27H301.5 M300 43.75H301.5 M300 27.22H301.5" stroke="#595959" stroke-width="0.8"/>
<text x="293.9" y="112" font-size="6.7" text-anchor="end" fill="#646464" font-family="'Liberation Sans', Arial, sans-serif" textLength="3.3" lengthAdjust="spacingAndGlyphs">0</text>
<text x="293.9" y="95.47" font-size="6.7" text-anchor="end" fill="#646464" font-family="'Liberation Sans', Arial, sans-serif" textLength="3.3" lengthAdjust="spacingAndGlyphs">1</text>
<text x="293.9" y="78.95" font-size="6.7" text-anchor="end" fill="#646464" font-family="'Liberation Sans', Arial, sans-serif" textLength="3.3" lengthAdjust="spacingAndGlyphs">2</text>
<text x="293.9" y="62.42" font-size="6.7" text-anchor="end" fill="#646464" font-family="'Liberation Sans', Arial, sans-serif" textLength="3.3" lengthAdjust="spacingAndGlyphs">3</text>
<text x="293.9" y="45.9" font-size="6.7" text-anchor="end" fill="#646464" font-family="'Liberation Sans', Arial, sans-serif" textLength="3.3" lengthAdjust="spacingAndGlyphs">4</text>
<text x="293.9" y="29.37" font-size="6.7" text-anchor="end" fill="#646464" font-family="'Liberation Sans', Arial, sans-serif" textLength="3.3" lengthAdjust="spacingAndGlyphs">5</text>
<text x="293.9" y="12.85" font-size="6.7" text-anchor="end" fill="#646464" font-family="'Liberation Sans', Arial, sans-serif" textLength="3.3" lengthAdjust="spacingAndGlyphs">6</text>
<text x="520.2" y="112" font-size="6.7" text-anchor="start" fill="#646464" font-family="'Liberation Sans', Arial, sans-serif" textLength="3.25" lengthAdjust="spacingAndGlyphs">0</text>
<text x="520.2" y="95.47" font-size="6.7" text-anchor="start" fill="#646464" font-family="'Liberation Sans', Arial, sans-serif" textLength="9.75" lengthAdjust="spacingAndGlyphs">500</text>
<text x="520.2" y="78.95" font-size="6.7" text-anchor="start" fill="#646464" font-family="'Liberation Sans', Arial, sans-serif" textLength="13" lengthAdjust="spacingAndGlyphs">1000</text>
<text x="520.2" y="62.42" font-size="6.7" text-anchor="start" fill="#646464" font-family="'Liberation Sans', Arial, sans-serif" textLength="13" lengthAdjust="spacingAndGlyphs">1500</text>
<text x="520.2" y="45.9" font-size="6.7" text-anchor="start" fill="#646464" font-family="'Liberation Sans', Arial, sans-serif" textLength="13" lengthAdjust="spacingAndGlyphs">2000</text>
<text x="520.2" y="29.37" font-size="6.7" text-anchor="start" fill="#646464" font-family="'Liberation Sans', Arial, sans-serif" textLength="13" lengthAdjust="spacingAndGlyphs">2500</text>
<text x="520.2" y="12.85" font-size="6.7" text-anchor="start" fill="#646464" font-family="'Liberation Sans', Arial, sans-serif" textLength="13" lengthAdjust="spacingAndGlyphs">3000</text>
<text x="301.5" y="121.2" font-size="6.4" text-anchor="middle" fill="#646464" font-family="'Liberation Sans', Arial, sans-serif" textLength="3.25" lengthAdjust="spacingAndGlyphs">0</text>
<text x="315.5" y="121.2" font-size="6.4" text-anchor="middle" fill="#646464" font-family="'Liberation Sans', Arial, sans-serif" textLength="3.25" lengthAdjust="spacingAndGlyphs">4</text>
<text x="329.5" y="121.2" font-size="6.4" text-anchor="middle" fill="#646464" font-family="'Liberation Sans', Arial, sans-serif" textLength="3.25" lengthAdjust="spacingAndGlyphs">8</text>
<text x="343.5" y="121.2" font-size="6.4" text-anchor="middle" fill="#646464" font-family="'Liberation Sans', Arial, sans-serif" textLength="6.5" lengthAdjust="spacingAndGlyphs">12</text>
<text x="357.5" y="121.2" font-size="6.4" text-anchor="middle" fill="#646464" font-family="'Liberation Sans', Arial, sans-serif" textLength="6.5" lengthAdjust="spacingAndGlyphs">16</text>
<text x="371.5" y="121.2" font-size="6.4" text-anchor="middle" fill="#646464" font-family="'Liberation Sans', Arial, sans-serif" textLength="6.5" lengthAdjust="spacingAndGlyphs">20</text>
<text x="385.5" y="121.2" font-size="6.4" text-anchor="middle" fill="#646464" font-family="'Liberation Sans', Arial, sans-serif" textLength="6.5" lengthAdjust="spacingAndGlyphs">24</text>
<text x="399.5" y="121.2" font-size="6.4" text-anchor="middle" fill="#646464" font-family="'Liberation Sans', Arial, sans-serif" textLength="6.5" lengthAdjust="spacingAndGlyphs">28</text>
<text x="413.5" y="121.2" font-size="6.4" text-anchor="middle" fill="#646464" font-family="'Liberation Sans', Arial, sans-serif" textLength="6.5" lengthAdjust="spacingAndGlyphs">32</text>
<text x="427.5" y="121.2" font-size="6.4" text-anchor="middle" fill="#646464" font-family="'Liberation Sans', Arial, sans-serif" textLength="6.5" lengthAdjust="spacingAndGlyphs">36</text>
<text x="441.5" y="121.2" font-size="6.4" text-anchor="middle" fill="#646464" font-family="'Liberation Sans', Arial, sans-serif" textLength="6.5" lengthAdjust="spacingAndGlyphs">40</text>
<text x="455.5" y="121.2" font-size="6.4" text-anchor="middle" fill="#646464" font-family="'Liberation Sans', Arial, sans-serif" textLength="6.5" lengthAdjust="spacingAndGlyphs">44</text>
<text x="469.5" y="121.2" font-size="6.4" text-anchor="middle" fill="#646464" font-family="'Liberation Sans', Arial, sans-serif" textLength="6.5" lengthAdjust="spacingAndGlyphs">48</text>
<text x="483.5" y="121.2" font-size="6.4" text-anchor="middle" fill="#646464" font-family="'Liberation Sans', Arial, sans-serif" textLength="6.5" lengthAdjust="spacingAndGlyphs">52</text>
<text x="497.5" y="121.2" font-size="6.4" text-anchor="middle" fill="#646464" font-family="'Liberation Sans', Arial, sans-serif" textLength="6.5" lengthAdjust="spacingAndGlyphs">56</text>
<text x="511.5" y="121.2" font-size="6.4" text-anchor="middle" fill="#646464" font-family="'Liberation Sans', Arial, sans-serif" textLength="6.5" lengthAdjust="spacingAndGlyphs">60</text>
<text x="407.4" y="127.6" font-size="7.2" text-anchor="middle" fill="#646464" font-family="'Liberation Sans', Arial, sans-serif" textLength="57.4" lengthAdjust="spacingAndGlyphs">Timeline (seconds)</text>
<text transform="translate(286.6 60.6) rotate(-90)" x="0" y="0" font-size="6.6" text-anchor="middle" fill="#646464" font-family="'Liberation Sans', Arial, sans-serif" textLength="83" lengthAdjust="spacingAndGlyphs">Network bandwidth (Gbps)</text>
<text transform="translate(543.3 60.7) rotate(-90)" x="0" y="0" font-size="6.6" text-anchor="middle" fill="#646464" font-family="'Liberation Sans', Arial, sans-serif" textLength="74.8" lengthAdjust="spacingAndGlyphs">Interval (microseconds)</text>
<text x="359.7" y="146.1" font-size="10.6" fill="#1a1a1a" stroke="#1a1a1a" stroke-width="0.18" font-family="'Liberation Serif', 'Times New Roman', serif" textLength="102" lengthAdjust="spacingAndGlyphs">(<tspan font-weight="bold">b</tspan>) 3 VMs, 3 Threads</text>
<path d="M27.6 255.71H239.1 M27.6 239.17H239.1 M27.6 222.62H239.1 M27.6 206.08H239.1 M27.6 189.54H239.1 M97.6 173V272.25 M167.6 173V272.25 M237.6 173V272.25" stroke="#d9d9d9" stroke-width="0.8" fill="none"/>
<path d="M31.1 216.67 L34.6 216.84 L38.1 214.35 L41.6 225.77 L45.1 233.38 L48.6 222.62 L52.1 208.23 L55.6 206.91 L59.1 207.74 L62.6 211.38 L66.1 211.54 L69.6 206.08 L73.1 207.41 L76.6 212.37 L80.1 215.68 L83.6 216.34 L87.1 214.35 L90.6 209.23 L94.1 206.58 L97.6 208.23 L101.1 201.12 L104.6 195.17 L108.1 201.62 L111.6 198.64 L115.1 194.67 L118.6 195.99 L122.1 198.64 L125.6 200.13 L129.1 195.66 L132.6 198.31 L136.1 202.44 L139.6 198.81 L143.1 194.83 L146.6 195.83 L150.1 196.32 L153.6 194.83 L157.1 194.83 L160.6 194.01 L164.1 200.62 L167.6 205.59 L171.1 201.78 L174.6 195.83 L178.1 195.83 L181.6 197.15 L185.1 196.82 L188.6 195.33 L192.1 195.33 L195.6 195.99 L199.1 195.83 L202.6 195.83 L206.1 195.83 L209.6 195.83 L213.1 194.83 L216.6 194.83 L220.1 194.83 L223.6 195.17 L227.1 196.32 L230.6 196.32 L234.1 195.33 L237.6 195.17" stroke="#2f62c0" stroke-width="1.3" fill="none" stroke-linejoin="round"/>
<path d="M31.1 215.27L32.5 216.67L31.1 218.07L29.7 216.67Z" fill="#2f62c0"/><path d="M34.6 215.44L36 216.84L34.6 218.24L33.2 216.84Z" fill="#2f62c0"/><path d="M38.1 212.95L39.5 214.35L38.1 215.75L36.7 214.35Z" fill="#2f62c0"/><path d="M41.6 224.37L43 225.77L41.6 227.17L40.2 225.77Z" fill="#2f62c0"/><path d="M45.1 231.98L46.5 233.38L45.1 234.78L43.7 233.38Z" fill="#2f62c0"/><path d="M48.6 221.22L50 222.62L48.6 224.03L47.2 222.62Z" fill="#2f62c0"/><path d="M52.1 206.83L53.5 208.23L52.1 209.63L50.7 208.23Z" fill="#2f62c0"/><path d="M55.6 205.51L57 206.91L55.6 208.31L54.2 206.91Z" fill="#2f62c0"/><path d="M59.1 206.34L60.5 207.74L59.1 209.14L57.7 207.74Z" fill="#2f62c0"/><path d="M62.6 209.98L64 211.38L62.6 212.78L61.2 211.38Z" fill="#2f62c0"/><path d="M66.1 210.14L67.5 211.54L66.1 212.94L64.7 211.54Z" fill="#2f62c0"/><path d="M69.6 204.68L71 206.08L69.6 207.48L68.2 206.08Z" fill="#2f62c0"/><path d="M73.1 206.01L74.5 207.41L73.1 208.81L71.7 207.41Z" fill="#2f62c0"/><path d="M76.6 210.97L78 212.37L76.6 213.77L75.2 212.37Z" fill="#2f62c0"/><path d="M80.1 214.28L81.5 215.68L80.1 217.08L78.7 215.68Z" fill="#2f62c0"/><path d="M83.6 214.94L85 216.34L83.6 217.74L82.2 216.34Z" fill="#2f62c0"/><path d="M87.1 212.95L88.5 214.35L87.1 215.75L85.7 214.35Z" fill="#2f62c0"/><path d="M90.6 207.83L92 209.23L90.6 210.63L89.2 209.23Z" fill="#2f62c0"/><path d="M94.1 205.18L95.5 206.58L94.1 207.98L92.7 206.58Z" fill="#2f62c0"/><path d="M97.6 206.83L99 208.23L97.6 209.63L96.2 208.23Z" fill="#2f62c0"/><path d="M101.1 199.72L102.5 201.12L101.1 202.52L99.7 201.12Z" fill="#2f62c0"/><path d="M104.6 193.77L106 195.17L104.6 196.57L103.2 195.17Z" fill="#2f62c0"/><path d="M108.1 200.22L109.5 201.62L108.1 203.02L106.7 201.62Z" fill="#2f62c0"/><path d="M111.6 197.24L113 198.64L111.6 200.04L110.2 198.64Z" fill="#2f62c0"/><path d="M115.1 193.27L116.5 194.67L115.1 196.07L113.7 194.67Z" fill="#2f62c0"/><path d="M118.6 194.59L120 195.99L118.6 197.39L117.2 195.99Z" fill="#2f62c0"/><path d="M122.1 197.24L123.5 198.64L122.1 200.04L120.7 198.64Z" fill="#2f62c0"/><path d="M125.6 198.73L127 200.13L125.6 201.53L124.2 200.13Z" fill="#2f62c0"/><path d="M129.1 194.26L130.5 195.66L129.1 197.06L127.7 195.66Z" fill="#2f62c0"/><path d="M132.6 196.91L134 198.31L132.6 199.71L131.2 198.31Z" fill="#2f62c0"/><path d="M136.1 201.04L137.5 202.44L136.1 203.84L134.7 202.44Z" fill="#2f62c0"/><path d="M139.6 197.41L141 198.81L139.6 200.21L138.2 198.81Z" fill="#2f62c0"/><path d="M143.1 193.43L144.5 194.83L143.1 196.23L141.7 194.83Z" fill="#2f62c0"/><path d="M146.6 194.43L148 195.83L146.6 197.23L145.2 195.83Z" fill="#2f62c0"/><path d="M150.1 194.92L151.5 196.32L150.1 197.72L148.7 196.32Z" fill="#2f62c0"/><path d="M153.6 193.43L155 194.83L153.6 196.23L152.2 194.83Z" fill="#2f62c0"/><path d="M157.1 193.43L158.5 194.83L157.1 196.23L155.7 194.83Z" fill="#2f62c0"/><path d="M160.6 192.61L162 194.01L160.6 195.41L159.2 194.01Z" fill="#2f62c0"/><path d="M164.1 199.22L165.5 200.62L164.1 202.02L162.7 200.62Z" fill="#2f62c0"/><path d="M167.6 204.19L169 205.59L167.6 206.99L166.2 205.59Z" fill="#2f62c0"/><path d="M171.1 200.38L172.5 201.78L171.1 203.18L169.7 201.78Z" fill="#2f62c0"/><path d="M174.6 194.43L176 195.83L174.6 197.23L173.2 195.83Z" fill="#2f62c0"/><path d="M178.1 194.43L179.5 195.83L178.1 197.23L176.7 195.83Z" fill="#2f62c0"/><path d="M181.6 195.75L183 197.15L181.6 198.55L180.2 197.15Z" fill="#2f62c0"/><path d="M185.1 195.42L186.5 196.82L185.1 198.22L183.7 196.82Z" fill="#2f62c0"/><path d="M188.6 193.93L190 195.33L188.6 196.73L187.2 195.33Z" fill="#2f62c0"/><path d="M192.1 193.93L193.5 195.33L192.1 196.73L190.7 195.33Z" fill="#2f62c0"/><path d="M195.6 194.59L197 195.99L195.6 197.39L194.2 195.99Z" fill="#2f62c0"/><path d="M199.1 194.43L200.5 195.83L199.1 197.23L197.7 195.83Z" fill="#2f62c0"/><path d="M202.6 194.43L204 195.83L202.6 197.23L201.2 195.83Z" fill="#2f62c0"/><path d="M206.1 194.43L207.5 195.83L206.1 197.23L204.7 195.83Z" fill="#2f62c0"/><path d="M209.6 194.43L211 195.83L209.6 197.23L208.2 195.83Z" fill="#2f62c0"/><path d="M213.1 193.43L214.5 194.83L213.1 196.23L211.7 194.83Z" fill="#2f62c0"/><path d="M216.6 193.43L218 194.83L216.6 196.23L215.2 194.83Z" fill="#2f62c0"/><path d="M220.1 193.43L221.5 194.83L220.1 196.23L218.7 194.83Z" fill="#2f62c0"/><path d="M223.6 193.77L225 195.17L223.6 196.57L222.2 195.17Z" fill="#2f62c0"/><path d="M227.1 194.92L228.5 196.32L227.1 197.72L225.7 196.32Z" fill="#2f62c0"/><path d="M230.6 194.92L232 196.32L230.6 197.72L229.2 196.32Z" fill="#2f62c0"/><path d="M234.1 193.93L235.5 195.33L234.1 196.73L232.7 195.33Z" fill="#2f62c0"/><path d="M237.6 193.77L239 195.17L237.6 196.57L236.2 195.17Z" fill="#2f62c0"/>
<path d="M97.6 189.54 L101.1 218.99 L104.6 238.67 L108.1 207.41 L111.6 201.12 L115.1 196.65 L118.6 192.85 L122.1 198.64 L125.6 194.67 L129.1 196.65 L132.6 197.48 L136.1 197.48 L139.6 197.48 L143.1 197.48 L146.6 197.48 L150.1 197.48 L153.6 197.48 L157.1 197.48 L160.6 197.48 L164.1 197.48 L167.6 197.48 L171.1 197.48 L174.6 197.48 L178.1 197.48 L181.6 197.48 L185.1 197.48 L188.6 197.48 L192.1 197.48 L195.6 197.48 L199.1 197.48 L202.6 197.48 L206.1 197.48 L209.6 197.48 L213.1 197.48 L216.6 197.48 L220.1 197.48 L223.6 197.48 L227.1 197.48 L230.6 197.48 L234.1 197.48 L237.6 197.48" stroke="#ed7d31" stroke-width="1.3" fill="none" stroke-linejoin="round"/>
<rect x="96.48" y="188.42" width="2.24" height="2.24" fill="#ed7d31"/><rect x="99.98" y="217.87" width="2.24" height="2.24" fill="#ed7d31"/><rect x="103.48" y="237.55" width="2.24" height="2.24" fill="#ed7d31"/><rect x="106.98" y="206.29" width="2.24" height="2.24" fill="#ed7d31"/><rect x="110.48" y="200" width="2.24" height="2.24" fill="#ed7d31"/><rect x="113.98" y="195.53" width="2.24" height="2.24" fill="#ed7d31"/><rect x="117.48" y="191.73" width="2.24" height="2.24" fill="#ed7d31"/><rect x="120.98" y="197.52" width="2.24" height="2.24" fill="#ed7d31"/><rect x="124.48" y="193.55" width="2.24" height="2.24" fill="#ed7d31"/><rect x="127.98" y="195.53" width="2.24" height="2.24" fill="#ed7d31"/><rect x="131.48" y="196.36" width="2.24" height="2.24" fill="#ed7d31"/><rect x="134.98" y="196.36" width="2.24" height="2.24" fill="#ed7d31"/><rect x="138.48" y="196.36" width="2.24" height="2.24" fill="#ed7d31"/><rect x="141.98" y="196.36" width="2.24" height="2.24" fill="#ed7d31"/><rect x="145.48" y="196.36" width="2.24" height="2.24" fill="#ed7d31"/><rect x="148.98" y="196.36" width="2.24" height="2.24" fill="#ed7d31"/><rect x="152.48" y="196.36" width="2.24" height="2.24" fill="#ed7d31"/><rect x="155.98" y="196.36" width="2.24" height="2.24" fill="#ed7d31"/><rect x="159.48" y="196.36" width="2.24" height="2.24" fill="#ed7d31"/><rect x="162.98" y="196.36" width="2.24" height="2.24" fill="#ed7d31"/><rect x="166.48" y="196.36" width="2.24" height="2.24" fill="#ed7d31"/><rect x="169.98" y="196.36" width="2.24" height="2.24" fill="#ed7d31"/><rect x="173.48" y="196.36" width="2.24" height="2.24" fill="#ed7d31"/><rect x="176.98" y="196.36" width="2.24" height="2.24" fill="#ed7d31"/><rect x="180.48" y="196.36" width="2.24" height="2.24" fill="#ed7d31"/><rect x="183.98" y="196.36" width="2.24" height="2.24" fill="#ed7d31"/><rect x="187.48" y="196.36" width="2.24" height="2.24" fill="#ed7d31"/><rect x="190.98" y="196.36" width="2.24" height="2.24" fill="#ed7d31"/><rect x="194.48" y="196.36" width="2.24" height="2.24" fill="#ed7d31"/><rect x="197.98" y="196.36" width="2.24" height="2.24" fill="#ed7d31"/><rect x="201.48" y="196.36" width="2.24" height="2.24" fill="#ed7d31"/><rect x="204.98" y="196.36" width="2.24" height="2.24" fill="#ed7d31"/><rect x="208.48" y="196.36" width="2.24" height="2.24" fill="#ed7d31"/><rect x="211.98" y="196.36" width="2.24" height="2.24" fill="#ed7d31"/><rect x="215.48" y="196.36" width="2.24" height="2.24" fill="#ed7d31"/><rect x="218.98" y="196.36" width="2.24" height="2.24" fill="#ed7d31"/><rect x="222.48" y="196.36" width="2.24" height="2.24" fill="#ed7d31"/><rect x="225.98" y="196.36" width="2.24" height="2.24" fill="#ed7d31"/><rect x="229.48" y="196.36" width="2.24" height="2.24" fill="#ed7d31"/><rect x="232.98" y="196.36" width="2.24" height="2.24" fill="#ed7d31"/><rect x="236.48" y="196.36" width="2.24" height="2.24" fill="#ed7d31"/>
<path d="M97.6 189.54 L101.1 218.99 L104.6 238.67 L108.1 207.9 L111.6 226.93 L115.1 214.69 L118.6 222.29 L122.1 219.98 L125.6 220.81 L129.1 218.99 L132.6 219.81 L136.1 219.81 L139.6 219.81 L143.1 219.81 L146.6 219.81 L150.1 219.81 L153.6 219.81 L157.1 219.81 L160.6 219.81 L164.1 219.81 L167.6 219.81 L171.1 219.81 L174.6 219.81 L178.1 219.81 L181.6 219.81 L185.1 219.81 L188.6 219.81 L192.1 219.81 L195.6 219.81 L199.1 219.81 L202.6 219.81 L206.1 219.81 L209.6 219.81 L213.1 219.81 L216.6 219.81 L220.1 219.81 L223.6 219.81 L227.1 219.81 L230.6 219.81 L234.1 219.81 L237.6 219.81" stroke="#9b9b9b" stroke-width="1.3" fill="none" stroke-linejoin="round"/>
<path d="M97.6 188.14L99 190.66L96.2 190.66Z" fill="#9b9b9b"/><path d="M101.1 217.59L102.5 220.11L99.7 220.11Z" fill="#9b9b9b"/><path d="M104.6 237.27L106 239.79L103.2 239.79Z" fill="#9b9b9b"/><path d="M108.1 206.5L109.5 209.02L106.7 209.02Z" fill="#9b9b9b"/><path d="M111.6 225.53L113 228.05L110.2 228.05Z" fill="#9b9b9b"/><path d="M115.1 213.28L116.5 215.81L113.7 215.81Z" fill="#9b9b9b"/><path d="M118.6 220.89L120 223.41L117.2 223.41Z" fill="#9b9b9b"/><path d="M122.1 218.58L123.5 221.1L120.7 221.1Z" fill="#9b9b9b"/><path d="M125.6 219.41L127 221.93L124.2 221.93Z" fill="#9b9b9b"/><path d="M129.1 217.59L130.5 220.11L127.7 220.11Z" fill="#9b9b9b"/><path d="M132.6 218.41L134 220.93L131.2 220.93Z" fill="#9b9b9b"/><path d="M136.1 218.41L137.5 220.93L134.7 220.93Z" fill="#9b9b9b"/><path d="M139.6 218.41L141 220.93L138.2 220.93Z" fill="#9b9b9b"/><path d="M143.1 218.41L144.5 220.93L141.7 220.93Z" fill="#9b9b9b"/><path d="M146.6 218.41L148 220.93L145.2 220.93Z" fill="#9b9b9b"/><path d="M150.1 218.41L151.5 220.93L148.7 220.93Z" fill="#9b9b9b"/><path d="M153.6 218.41L155 220.93L152.2 220.93Z" fill="#9b9b9b"/><path d="M157.1 218.41L158.5 220.93L155.7 220.93Z" fill="#9b9b9b"/><path d="M160.6 218.41L162 220.93L159.2 220.93Z" fill="#9b9b9b"/><path d="M164.1 218.41L165.5 220.93L162.7 220.93Z" fill="#9b9b9b"/><path d="M167.6 218.41L169 220.93L166.2 220.93Z" fill="#9b9b9b"/><path d="M171.1 218.41L172.5 220.93L169.7 220.93Z" fill="#9b9b9b"/><path d="M174.6 218.41L176 220.93L173.2 220.93Z" fill="#9b9b9b"/><path d="M178.1 218.41L179.5 220.93L176.7 220.93Z" fill="#9b9b9b"/><path d="M181.6 218.41L183 220.93L180.2 220.93Z" fill="#9b9b9b"/><path d="M185.1 218.41L186.5 220.93L183.7 220.93Z" fill="#9b9b9b"/><path d="M188.6 218.41L190 220.93L187.2 220.93Z" fill="#9b9b9b"/><path d="M192.1 218.41L193.5 220.93L190.7 220.93Z" fill="#9b9b9b"/><path d="M195.6 218.41L197 220.93L194.2 220.93Z" fill="#9b9b9b"/><path d="M199.1 218.41L200.5 220.93L197.7 220.93Z" fill="#9b9b9b"/><path d="M202.6 218.41L204 220.93L201.2 220.93Z" fill="#9b9b9b"/><path d="M206.1 218.41L207.5 220.93L204.7 220.93Z" fill="#9b9b9b"/><path d="M209.6 218.41L211 220.93L208.2 220.93Z" fill="#9b9b9b"/><path d="M213.1 218.41L214.5 220.93L211.7 220.93Z" fill="#9b9b9b"/><path d="M216.6 218.41L218 220.93L215.2 220.93Z" fill="#9b9b9b"/><path d="M220.1 218.41L221.5 220.93L218.7 220.93Z" fill="#9b9b9b"/><path d="M223.6 218.41L225 220.93L222.2 220.93Z" fill="#9b9b9b"/><path d="M227.1 218.41L228.5 220.93L225.7 220.93Z" fill="#9b9b9b"/><path d="M230.6 218.41L232 220.93L229.2 220.93Z" fill="#9b9b9b"/><path d="M234.1 218.41L235.5 220.93L232.7 220.93Z" fill="#9b9b9b"/><path d="M237.6 218.41L239 220.93L236.2 220.93Z" fill="#9b9b9b"/>
<path d="M97.6 189.54 L101.1 218.99 L104.6 238.67 L108.1 250.81 L111.6 257.53 L115.1 262.13 L118.6 264.24 L122.1 259.22 L125.6 262.52 L129.1 260.84 L132.6 262.16 L136.1 262.16 L139.6 262.16 L143.1 262.16 L146.6 262.16 L150.1 262.16 L153.6 262.16 L157.1 262.16 L160.6 262.16 L164.1 262.16 L167.6 262.16 L171.1 262.16 L174.6 262.16 L178.1 262.16 L181.6 262.16 L185.1 262.16 L188.6 262.16 L192.1 262.16 L195.6 262.16 L199.1 262.16 L202.6 262.16 L206.1 262.16 L209.6 262.16 L213.1 262.16 L216.6 262.16 L220.1 262.16 L223.6 262.16 L227.1 262.16 L230.6 262.16 L234.1 262.16 L237.6 262.16" stroke="#ffc000" stroke-width="1.3" fill="none" stroke-linejoin="round"/>
<path d="M96.2 188.14L99 190.94M99 188.14L96.2 190.94" stroke="#ffc000" stroke-width="0.8" fill="none"/><path d="M99.7 217.59L102.5 220.39M102.5 217.59L99.7 220.39" stroke="#ffc000" stroke-width="0.8" fill="none"/><path d="M103.2 237.27L106 240.07M106 237.27L103.2 240.07" stroke="#ffc000" stroke-width="0.8" fill="none"/><path d="M106.7 249.41L109.5 252.21M109.5 249.41L106.7 252.21" stroke="#ffc000" stroke-width="0.8" fill="none"/><path d="M110.2 256.13L113 258.93M113 256.13L110.2 258.93" stroke="#ffc000" stroke-width="0.8" fill="none"/><path d="M113.7 260.73L116.5 263.53M116.5 260.73L113.7 263.53" stroke="#ffc000" stroke-width="0.8" fill="none"/><path d="M117.2 262.84L120 265.64M120 262.84L117.2 265.64" stroke="#ffc000" stroke-width="0.8" fill="none"/><path d="M120.7 257.82L123.5 260.62M123.5 257.82L120.7 260.62" stroke="#ffc000" stroke-width="0.8" fill="none"/><path d="M124.2 261.12L127 263.92M127 261.12L124.2 263.92" stroke="#ffc000" stroke-width="0.8" fill="none"/><path d="M127.7 259.44L130.5 262.24M130.5 259.44L127.7 262.24" stroke="#ffc000" stroke-width="0.8" fill="none"/><path d="M131.2 260.76L134 263.56M134 260.76L131.2 263.56" stroke="#ffc000" stroke-width="0.8" fill="none"/><path d="M134.7 260.76L137.5 263.56M137.5 260.76L134.7 263.56" stroke="#ffc000" stroke-width="0.8" fill="none"/><path d="M138.2 260.76L141 263.56M141 260.76L138.2 263.56" stroke="#ffc000" stroke-width="0.8" fill="none"/><path d="M141.7 260.76L144.5 263.56M144.5 260.76L141.7 263.56" stroke="#ffc000" stroke-width="0.8" fill="none"/><path d="M145.2 260.76L148 263.56M148 260.76L145.2 263.56" stroke="#ffc000" stroke-width="0.8" fill="none"/><path d="M148.7 260.76L151.5 263.56M151.5 260.76L148.7 263.56" stroke="#ffc000" stroke-width="0.8" fill="none"/><path d="M152.2 260.76L155 263.56M155 260.76L152.2 263.56" stroke="#ffc000" stroke-width="0.8" fill="none"/><path d="M155.7 260.76L158.5 263.56M158.5 260.76L155.7 263.56" stroke="#ffc000" stroke-width="0.8" fill="none"/><path d="M159.2 260.76L162 263.56M162 260.76L159.2 263.56" stroke="#ffc000" stroke-width="0.8" fill="none"/><path d="M162.7 260.76L165.5 263.56M165.5 260.76L162.7 263.56" stroke="#ffc000" stroke-width="0.8" fill="none"/><path d="M166.2 260.76L169 263.56M169 260.76L166.2 263.56" stroke="#ffc000" stroke-width="0.8" fill="none"/><path d="M169.7 260.76L172.5 263.56M172.5 260.76L169.7 263.56" stroke="#ffc000" stroke-width="0.8" fill="none"/><path d="M173.2 260.76L176 263.56M176 260.76L173.2 263.56" stroke="#ffc000" stroke-width="0.8" fill="none"/><path d="M176.7 260.76L179.5 263.56M179.5 260.76L176.7 263.56" stroke="#ffc000" stroke-width="0.8" fill="none"/><path d="M180.2 260.76L183 263.56M183 260.76L180.2 263.56" stroke="#ffc000" stroke-width="0.8" fill="none"/><path d="M183.7 260.76L186.5 263.56M186.5 260.76L183.7 263.56" stroke="#ffc000" stroke-width="0.8" fill="none"/><path d="M187.2 260.76L190 263.56M190 260.76L187.2 263.56" stroke="#ffc000" stroke-width="0.8" fill="none"/><path d="M190.7 260.76L193.5 263.56M193.5 260.76L190.7 263.56" stroke="#ffc000" stroke-width="0.8" fill="none"/><path d="M194.2 260.76L197 263.56M197 260.76L194.2 263.56" stroke="#ffc000" stroke-width="0.8" fill="none"/><path d="M197.7 260.76L200.5 263.56M200.5 260.76L197.7 263.56" stroke="#ffc000" stroke-width="0.8" fill="none"/><path d="M201.2 260.76L204 263.56M204 260.76L201.2 263.56" stroke="#ffc000" stroke-width="0.8" fill="none"/><path d="M204.7 260.76L207.5 263.56M207.5 260.76L204.7 263.56" stroke="#ffc000" stroke-width="0.8" fill="none"/><path d="M208.2 260.76L211 263.56M211 260.76L208.2 263.56" stroke="#ffc000" stroke-width="0.8" fill="none"/><path d="M211.7 260.76L214.5 263.56M214.5 260.76L211.7 263.56" stroke="#ffc000" stroke-width="0.8" fill="none"/><path d="M215.2 260.76L218 263.56M218 260.76L215.2 263.56" stroke="#ffc000" stroke-width="0.8" fill="none"/><path d="M218.7 260.76L221.5 263.56M221.5 260.76L218.7 263.56" stroke="#ffc000" stroke-width="0.8" fill="none"/><path d="M222.2 260.76L225 263.56M225 260.76L222.2 263.56" stroke="#ffc000" stroke-width="0.8" fill="none"/><path d="M225.7 260.76L228.5 263.56M228.5 260.76L225.7 263.56" stroke="#ffc000" stroke-width="0.8" fill="none"/><path d="M229.2 260.76L232 263.56M232 260.76L229.2 263.56" stroke="#ffc000" stroke-width="0.8" fill="none"/><path d="M232.7 260.76L235.5 263.56M235.5 260.76L232.7 263.56" stroke="#ffc000" stroke-width="0.8" fill="none"/><path d="M236.2 260.76L239 263.56M239 260.76L236.2 263.56" stroke="#ffc000" stroke-width="0.8" fill="none"/>
<path d="M97.6 189.54 L101.1 218.99 L104.6 238.67 L108.1 207.9 L111.6 226.93 L115.1 214.69 L118.6 222.29 L122.1 217.83 L125.6 217.17 L129.1 216.5 L132.6 217.66 L136.1 217.66 L139.6 217.66 L143.1 217.66 L146.6 217.66 L150.1 217.66 L153.6 217.66 L157.1 217.66 L160.6 217.66 L164.1 217.66 L167.6 217.66 L171.1 217.66 L174.6 217.66 L178.1 217.66 L181.6 217.66 L185.1 217.66 L188.6 217.66 L192.1 217.66 L195.6 217.66 L199.1 217.66 L202.6 217.66 L206.1 217.66 L209.6 217.66 L213.1 217.66 L216.6 217.66 L220.1 217.66 L223.6 217.66 L227.1 217.66 L230.6 217.66 L234.1 217.66 L237.6 217.66" stroke="#4c91d4" stroke-width="1.3" fill="none" stroke-linejoin="round"/>
<path d="M96.62 188.56L98.58 190.52M98.58 188.56L96.62 190.52M97.6 187.86L97.6 191.22" stroke="#4c91d4" stroke-width="0.7" fill="none"/><path d="M100.12 218.01L102.08 219.97M102.08 218.01L100.12 219.97M101.1 217.31L101.1 220.67" stroke="#4c91d4" stroke-width="0.7" fill="none"/><path d="M103.62 237.69L105.58 239.65M105.58 237.69L103.62 239.65M104.6 236.99L104.6 240.35" stroke="#4c91d4" stroke-width="0.7" fill="none"/><path d="M107.12 206.92L109.08 208.88M109.08 206.92L107.12 208.88M108.1 206.22L108.1 209.58" stroke="#4c91d4" stroke-width="0.7" fill="none"/><path d="M110.62 225.95L112.58 227.91M112.58 225.95L110.62 227.91M111.6 225.25L111.6 228.61" stroke="#4c91d4" stroke-width="0.7" fill="none"/><path d="M114.12 213.71L116.08 215.66M116.08 213.71L114.12 215.66M115.1 213L115.1 216.37" stroke="#4c91d4" stroke-width="0.7" fill="none"/><path d="M117.62 221.31L119.58 223.27M119.58 221.31L117.62 223.27M118.6 220.61L118.6 223.97" stroke="#4c91d4" stroke-width="0.7" fill="none"/><path d="M121.12 216.85L123.08 218.81M123.08 216.85L121.12 218.81M122.1 216.15L122.1 219.51" stroke="#4c91d4" stroke-width="0.7" fill="none"/><path d="M124.62 216.19L126.58 218.15M126.58 216.19L124.62 218.15M125.6 215.49L125.6 218.85" stroke="#4c91d4" stroke-width="0.7" fill="none"/><path d="M128.12 215.52L130.08 217.48M130.08 215.52L128.12 217.48M129.1 214.82L129.1 218.18" stroke="#4c91d4" stroke-width="0.7" fill="none"/><path d="M131.62 216.68L133.58 218.64M133.58 216.68L131.62 218.64M132.6 215.98L132.6 219.34" stroke="#4c91d4" stroke-width="0.7" fill="none"/><path d="M135.12 216.68L137.08 218.64M137.08 216.68L135.12 218.64M136.1 215.98L136.1 219.34" stroke="#4c91d4" stroke-width="0.7" fill="none"/><path d="M138.62 216.68L140.58 218.64M140.58 216.68L138.62 218.64M139.6 215.98L139.6 219.34" stroke="#4c91d4" stroke-width="0.7" fill="none"/><path d="M142.12 216.68L144.08 218.64M144.08 216.68L142.12 218.64M143.1 215.98L143.1 219.34" stroke="#4c91d4" stroke-width="0.7" fill="none"/><path d="M145.62 216.68L147.58 218.64M147.58 216.68L145.62 218.64M146.6 215.98L146.6 219.34" stroke="#4c91d4" stroke-width="0.7" fill="none"/><path d="M149.12 216.68L151.08 218.64M151.08 216.68L149.12 218.64M150.1 215.98L150.1 219.34" stroke="#4c91d4" stroke-width="0.7" fill="none"/><path d="M152.62 216.68L154.58 218.64M154.58 216.68L152.62 218.64M153.6 215.98L153.6 219.34" stroke="#4c91d4" stroke-width="0.7" fill="none"/><path d="M156.12 216.68L158.08 218.64M158.08 216.68L156.12 218.64M157.1 215.98L157.1 219.34" stroke="#4c91d4" stroke-width="0.7" fill="none"/><path d="M159.62 216.68L161.58 218.64M161.58 216.68L159.62 218.64M160.6 215.98L160.6 219.34" stroke="#4c91d4" stroke-width="0.7" fill="none"/><path d="M163.12 216.68L165.08 218.64M165.08 216.68L163.12 218.64M164.1 215.98L164.1 219.34" stroke="#4c91d4" stroke-width="0.7" fill="none"/><path d="M166.62 216.68L168.58 218.64M168.58 216.68L166.62 218.64M167.6 215.98L167.6 219.34" stroke="#4c91d4" stroke-width="0.7" fill="none"/><path d="M170.12 216.68L172.08 218.64M172.08 216.68L170.12 218.64M171.1 215.98L171.1 219.34" stroke="#4c91d4" stroke-width="0.7" fill="none"/><path d="M173.62 216.68L175.58 218.64M175.58 216.68L173.62 218.64M174.6 215.98L174.6 219.34" stroke="#4c91d4" stroke-width="0.7" fill="none"/><path d="M177.12 216.68L179.08 218.64M179.08 216.68L177.12 218.64M178.1 215.98L178.1 219.34" stroke="#4c91d4" stroke-width="0.7" fill="none"/><path d="M180.62 216.68L182.58 218.64M182.58 216.68L180.62 218.64M181.6 215.98L181.6 219.34" stroke="#4c91d4" stroke-width="0.7" fill="none"/><path d="M184.12 216.68L186.08 218.64M186.08 216.68L184.12 218.64M185.1 215.98L185.1 219.34" stroke="#4c91d4" stroke-width="0.7" fill="none"/><path d="M187.62 216.68L189.58 218.64M189.58 216.68L187.62 218.64M188.6 215.98L188.6 219.34" stroke="#4c91d4" stroke-width="0.7" fill="none"/><path d="M191.12 216.68L193.08 218.64M193.08 216.68L191.12 218.64M192.1 215.98L192.1 219.34" stroke="#4c91d4" stroke-width="0.7" fill="none"/><path d="M194.62 216.68L196.58 218.64M196.58 216.68L194.62 218.64M195.6 215.98L195.6 219.34" stroke="#4c91d4" stroke-width="0.7" fill="none"/><path d="M198.12 216.68L200.08 218.64M200.08 216.68L198.12 218.64M199.1 215.98L199.1 219.34" stroke="#4c91d4" stroke-width="0.7" fill="none"/><path d="M201.62 216.68L203.58 218.64M203.58 216.68L201.62 218.64M202.6 215.98L202.6 219.34" stroke="#4c91d4" stroke-width="0.7" fill="none"/><path d="M205.12 216.68L207.08 218.64M207.08 216.68L205.12 218.64M206.1 215.98L206.1 219.34" stroke="#4c91d4" stroke-width="0.7" fill="none"/><path d="M208.62 216.68L210.58 218.64M210.58 216.68L208.62 218.64M209.6 215.98L209.6 219.34" stroke="#4c91d4" stroke-width="0.7" fill="none"/><path d="M212.12 216.68L214.08 218.64M214.08 216.68L212.12 218.64M213.1 215.98L213.1 219.34" stroke="#4c91d4" stroke-width="0.7" fill="none"/><path d="M215.62 216.68L217.58 218.64M217.58 216.68L215.62 218.64M216.6 215.98L216.6 219.34" stroke="#4c91d4" stroke-width="0.7" fill="none"/><path d="M219.12 216.68L221.08 218.64M221.08 216.68L219.12 218.64M220.1 215.98L220.1 219.34" stroke="#4c91d4" stroke-width="0.7" fill="none"/><path d="M222.62 216.68L224.58 218.64M224.58 216.68L222.62 218.64M223.6 215.98L223.6 219.34" stroke="#4c91d4" stroke-width="0.7" fill="none"/><path d="M226.12 216.68L228.08 218.64M228.08 216.68L226.12 218.64M227.1 215.98L227.1 219.34" stroke="#4c91d4" stroke-width="0.7" fill="none"/><path d="M229.62 216.68L231.58 218.64M231.58 216.68L229.62 218.64M230.6 215.98L230.6 219.34" stroke="#4c91d4" stroke-width="0.7" fill="none"/><path d="M233.12 216.68L235.08 218.64M235.08 216.68L233.12 218.64M234.1 215.98L234.1 219.34" stroke="#4c91d4" stroke-width="0.7" fill="none"/><path d="M236.62 216.68L238.58 218.64M238.58 216.68L236.62 218.64M237.6 215.98L237.6 219.34" stroke="#4c91d4" stroke-width="0.7" fill="none"/>
<rect x="28.1" y="234.5" width="69" height="37.3" fill="#fff"/>
<path d="M38.7 239.3H53.8" stroke="#2f62c0" stroke-width="1.3"/>
<path d="M46.25 237.9L47.65 239.3L46.25 240.7L44.85 239.3Z" fill="#2f62c0"/>
<text x="55.1" y="241.1" font-size="6.3" text-anchor="start" fill="#646464" font-family="'Liberation Sans', Arial, sans-serif" textLength="30" lengthAdjust="spacingAndGlyphs">bandwidth</text>
<path d="M38.7 246.6H53.8" stroke="#ed7d31" stroke-width="1.3"/>
<rect x="45.13" y="245.48" width="2.24" height="2.24" fill="#ed7d31"/>
<text x="55.1" y="248.4" font-size="6.3" text-anchor="start" fill="#646464" font-family="'Liberation Sans', Arial, sans-serif" textLength="37" lengthAdjust="spacingAndGlyphs">interval-VM0</text>
<path d="M38.7 253.8H53.8" stroke="#9b9b9b" stroke-width="1.3"/>
<path d="M46.25 252.4L47.65 254.92L44.85 254.92Z" fill="#9b9b9b"/>
<text x="55.1" y="255.6" font-size="6.3" text-anchor="start" fill="#646464" font-family="'Liberation Sans', Arial, sans-serif" textLength="37" lengthAdjust="spacingAndGlyphs">interval-VM1</text>
<path d="M38.7 261.1H53.8" stroke="#ffc000" stroke-width="1.3"/>
<path d="M44.85 259.7L47.65 262.5M47.65 259.7L44.85 262.5" stroke="#ffc000" stroke-width="0.8" fill="none"/>
<text x="55.1" y="262.9" font-size="6.3" text-anchor="start" fill="#646464" font-family="'Liberation Sans', Arial, sans-serif" textLength="37" lengthAdjust="spacingAndGlyphs">interval-VM2</text>
<path d="M38.7 268.1H53.8" stroke="#4c91d4" stroke-width="1.3"/>
<path d="M45.27 267.12L47.23 269.08M47.23 267.12L45.27 269.08M46.25 266.42L46.25 269.78" stroke="#4c91d4" stroke-width="0.7" fill="none"/>
<text x="55.1" y="269.9" font-size="6.3" text-anchor="start" fill="#646464" font-family="'Liberation Sans', Arial, sans-serif" textLength="37" lengthAdjust="spacingAndGlyphs">interval-VM3</text>
<rect x="27.6" y="173" width="211.5" height="99.25" fill="none" stroke="#404040" stroke-width="1.1" stroke-linejoin="round"/>
<path d="M26.1 255.71H27.6 M26.1 239.17H27.6 M26.1 222.62H27.6 M26.1 206.08H27.6 M26.1 189.54H27.6" stroke="#595959" stroke-width="0.8"/>
<text x="19.6" y="274.4" font-size="6.7" text-anchor="end" fill="#646464" font-family="'Liberation Sans', Arial, sans-serif" textLength="3.3" lengthAdjust="spacingAndGlyphs">0</text>
<text x="19.6" y="257.86" font-size="6.7" text-anchor="end" fill="#646464" font-family="'Liberation Sans', Arial, sans-serif" textLength="3.3" lengthAdjust="spacingAndGlyphs">1</text>
<text x="19.6" y="241.32" font-size="6.7" text-anchor="end" fill="#646464" font-family="'Liberation Sans', Arial, sans-serif" textLength="3.3" lengthAdjust="spacingAndGlyphs">2</text>
<text x="19.6" y="224.78" font-size="6.7" text-anchor="end" fill="#646464" font-family="'Liberation Sans', Arial, sans-serif" textLength="3.3" lengthAdjust="spacingAndGlyphs">3</text>
<text x="19.6" y="208.23" font-size="6.7" text-anchor="end" fill="#646464" font-family="'Liberation Sans', Arial, sans-serif" textLength="3.3" lengthAdjust="spacingAndGlyphs">4</text>
<text x="19.6" y="191.69" font-size="6.7" text-anchor="end" fill="#646464" font-family="'Liberation Sans', Arial, sans-serif" textLength="3.3" lengthAdjust="spacingAndGlyphs">5</text>
<text x="19.6" y="175.15" font-size="6.7" text-anchor="end" fill="#646464" font-family="'Liberation Sans', Arial, sans-serif" textLength="3.3" lengthAdjust="spacingAndGlyphs">6</text>
<text x="246.2" y="274.4" font-size="6.7" text-anchor="start" fill="#646464" font-family="'Liberation Sans', Arial, sans-serif" textLength="3.25" lengthAdjust="spacingAndGlyphs">0</text>
<text x="246.2" y="257.86" font-size="6.7" text-anchor="start" fill="#646464" font-family="'Liberation Sans', Arial, sans-serif" textLength="9.75" lengthAdjust="spacingAndGlyphs">500</text>
<text x="246.2" y="241.32" font-size="6.7" text-anchor="start" fill="#646464" font-family="'Liberation Sans', Arial, sans-serif" textLength="13" lengthAdjust="spacingAndGlyphs">1000</text>
<text x="246.2" y="224.78" font-size="6.7" text-anchor="start" fill="#646464" font-family="'Liberation Sans', Arial, sans-serif" textLength="13" lengthAdjust="spacingAndGlyphs">1500</text>
<text x="246.2" y="208.23" font-size="6.7" text-anchor="start" fill="#646464" font-family="'Liberation Sans', Arial, sans-serif" textLength="13" lengthAdjust="spacingAndGlyphs">2000</text>
<text x="246.2" y="191.69" font-size="6.7" text-anchor="start" fill="#646464" font-family="'Liberation Sans', Arial, sans-serif" textLength="13" lengthAdjust="spacingAndGlyphs">2500</text>
<text x="246.2" y="175.15" font-size="6.7" text-anchor="start" fill="#646464" font-family="'Liberation Sans', Arial, sans-serif" textLength="13" lengthAdjust="spacingAndGlyphs">3000</text>
<text x="27.6" y="282.8" font-size="6.4" text-anchor="middle" fill="#646464" font-family="'Liberation Sans', Arial, sans-serif" textLength="3.25" lengthAdjust="spacingAndGlyphs">0</text>
<text x="41.6" y="282.8" font-size="6.4" text-anchor="middle" fill="#646464" font-family="'Liberation Sans', Arial, sans-serif" textLength="3.25" lengthAdjust="spacingAndGlyphs">4</text>
<text x="55.6" y="282.8" font-size="6.4" text-anchor="middle" fill="#646464" font-family="'Liberation Sans', Arial, sans-serif" textLength="3.25" lengthAdjust="spacingAndGlyphs">8</text>
<text x="69.6" y="282.8" font-size="6.4" text-anchor="middle" fill="#646464" font-family="'Liberation Sans', Arial, sans-serif" textLength="6.5" lengthAdjust="spacingAndGlyphs">12</text>
<text x="83.6" y="282.8" font-size="6.4" text-anchor="middle" fill="#646464" font-family="'Liberation Sans', Arial, sans-serif" textLength="6.5" lengthAdjust="spacingAndGlyphs">16</text>
<text x="97.6" y="282.8" font-size="6.4" text-anchor="middle" fill="#646464" font-family="'Liberation Sans', Arial, sans-serif" textLength="6.5" lengthAdjust="spacingAndGlyphs">20</text>
<text x="111.6" y="282.8" font-size="6.4" text-anchor="middle" fill="#646464" font-family="'Liberation Sans', Arial, sans-serif" textLength="6.5" lengthAdjust="spacingAndGlyphs">24</text>
<text x="125.6" y="282.8" font-size="6.4" text-anchor="middle" fill="#646464" font-family="'Liberation Sans', Arial, sans-serif" textLength="6.5" lengthAdjust="spacingAndGlyphs">28</text>
<text x="139.6" y="282.8" font-size="6.4" text-anchor="middle" fill="#646464" font-family="'Liberation Sans', Arial, sans-serif" textLength="6.5" lengthAdjust="spacingAndGlyphs">32</text>
<text x="153.6" y="282.8" font-size="6.4" text-anchor="middle" fill="#646464" font-family="'Liberation Sans', Arial, sans-serif" textLength="6.5" lengthAdjust="spacingAndGlyphs">36</text>
<text x="167.6" y="282.8" font-size="6.4" text-anchor="middle" fill="#646464" font-family="'Liberation Sans', Arial, sans-serif" textLength="6.5" lengthAdjust="spacingAndGlyphs">40</text>
<text x="181.6" y="282.8" font-size="6.4" text-anchor="middle" fill="#646464" font-family="'Liberation Sans', Arial, sans-serif" textLength="6.5" lengthAdjust="spacingAndGlyphs">44</text>
<text x="195.6" y="282.8" font-size="6.4" text-anchor="middle" fill="#646464" font-family="'Liberation Sans', Arial, sans-serif" textLength="6.5" lengthAdjust="spacingAndGlyphs">48</text>
<text x="209.6" y="282.8" font-size="6.4" text-anchor="middle" fill="#646464" font-family="'Liberation Sans', Arial, sans-serif" textLength="6.5" lengthAdjust="spacingAndGlyphs">52</text>
<text x="223.6" y="282.8" font-size="6.4" text-anchor="middle" fill="#646464" font-family="'Liberation Sans', Arial, sans-serif" textLength="6.5" lengthAdjust="spacingAndGlyphs">56</text>
<text x="237.6" y="282.8" font-size="6.4" text-anchor="middle" fill="#646464" font-family="'Liberation Sans', Arial, sans-serif" textLength="6.5" lengthAdjust="spacingAndGlyphs">60</text>
<text x="133.35" y="289.5" font-size="7.2" text-anchor="middle" fill="#646464" font-family="'Liberation Sans', Arial, sans-serif" textLength="57.4" lengthAdjust="spacingAndGlyphs">Timeline (seconds)</text>
<text transform="translate(12.4 222.6) rotate(-90)" x="0" y="0" font-size="6.6" text-anchor="middle" fill="#646464" font-family="'Liberation Sans', Arial, sans-serif" textLength="83" lengthAdjust="spacingAndGlyphs">Network bandwidth (Gbps)</text>
<text transform="translate(269.3 222.8) rotate(-90)" x="0" y="0" font-size="6.6" text-anchor="middle" fill="#646464" font-family="'Liberation Sans', Arial, sans-serif" textLength="74.8" lengthAdjust="spacingAndGlyphs">Interval (microseconds)</text>
<text x="86.9" y="308.8" font-size="10.6" fill="#1a1a1a" stroke="#1a1a1a" stroke-width="0.18" font-family="'Liberation Serif', 'Times New Roman', serif" textLength="101.2" lengthAdjust="spacingAndGlyphs">(<tspan font-weight="bold">c</tspan>) 4 VMs, 2 Threads</text>
<path d="M301.6 255.67H513.2 M301.6 239.13H513.2 M301.6 222.6H513.2 M301.6 206.07H513.2 M301.6 189.53H513.2 M371.6 173V272.2 M441.6 173V272.2 M511.6 173V272.2" stroke="#d9d9d9" stroke-width="0.8" fill="none"/>
<path d="M305.1 239.63 L308.6 239.63 L312.1 235 L315.6 235.66 L319.1 237.81 L322.6 239.46 L326.1 237.48 L329.6 236.65 L333.1 237.48 L336.6 235.99 L340.1 235.17 L343.6 235.33 L347.1 236.82 L350.6 238.31 L354.1 236.65 L357.6 235.66 L361.1 235.17 L364.6 236.16 L368.1 235.83 L371.6 235.33 L375.1 231.2 L378.6 226.07 L382.1 225.91 L385.6 225.91 L389.1 225.08 L392.6 225.08 L396.1 225.08 L399.6 225.08 L403.1 225.08 L406.6 225.08 L410.1 225.08 L413.6 225.08 L417.1 225.08 L420.6 225.08 L424.1 225.08 L427.6 225.08 L431.1 225.08 L434.6 225.08 L438.1 225.08 L441.6 226.57 L445.1 226.9 L448.6 224.91 L452.1 224.91 L455.6 224.91 L459.1 224.91 L462.6 224.91 L466.1 224.91 L469.6 224.91 L473.1 224.91 L476.6 224.91 L480.1 224.91 L483.6 224.91 L487.1 224.91 L490.6 224.91 L494.1 224.91 L497.6 224.91 L501.1 224.91 L504.6 224.91 L508.1 224.91 L511.6 226.24" stroke="#2f62c0" stroke-width="1.3" fill="none" stroke-linejoin="round"/>
<path d="M305.1 238.23L306.5 239.63L305.1 241.03L303.7 239.63Z" fill="#2f62c0"/><path d="M308.6 238.23L310 239.63L308.6 241.03L307.2 239.63Z" fill="#2f62c0"/><path d="M312.1 233.6L313.5 235L312.1 236.4L310.7 235Z" fill="#2f62c0"/><path d="M315.6 234.26L317 235.66L315.6 237.06L314.2 235.66Z" fill="#2f62c0"/><path d="M319.1 236.41L320.5 237.81L319.1 239.21L317.7 237.81Z" fill="#2f62c0"/><path d="M322.6 238.06L324 239.46L322.6 240.86L321.2 239.46Z" fill="#2f62c0"/><path d="M326.1 236.08L327.5 237.48L326.1 238.88L324.7 237.48Z" fill="#2f62c0"/><path d="M329.6 235.25L331 236.65L329.6 238.05L328.2 236.65Z" fill="#2f62c0"/><path d="M333.1 236.08L334.5 237.48L333.1 238.88L331.7 237.48Z" fill="#2f62c0"/><path d="M336.6 234.59L338 235.99L336.6 237.39L335.2 235.99Z" fill="#2f62c0"/><path d="M340.1 233.77L341.5 235.17L340.1 236.57L338.7 235.17Z" fill="#2f62c0"/><path d="M343.6 233.93L345 235.33L343.6 236.73L342.2 235.33Z" fill="#2f62c0"/><path d="M347.1 235.42L348.5 236.82L347.1 238.22L345.7 236.82Z" fill="#2f62c0"/><path d="M350.6 236.91L352 238.31L350.6 239.71L349.2 238.31Z" fill="#2f62c0"/><path d="M354.1 235.25L355.5 236.65L354.1 238.05L352.7 236.65Z" fill="#2f62c0"/><path d="M357.6 234.26L359 235.66L357.6 237.06L356.2 235.66Z" fill="#2f62c0"/><path d="M361.1 233.77L362.5 235.17L361.1 236.57L359.7 235.17Z" fill="#2f62c0"/><path d="M364.6 234.76L366 236.16L364.6 237.56L363.2 236.16Z" fill="#2f62c0"/><path d="M368.1 234.43L369.5 235.83L368.1 237.23L366.7 235.83Z" fill="#2f62c0"/><path d="M371.6 233.93L373 235.33L371.6 236.73L370.2 235.33Z" fill="#2f62c0"/><path d="M375.1 229.8L376.5 231.2L375.1 232.6L373.7 231.2Z" fill="#2f62c0"/><path d="M378.6 224.67L380 226.07L378.6 227.47L377.2 226.07Z" fill="#2f62c0"/><path d="M382.1 224.51L383.5 225.91L382.1 227.31L380.7 225.91Z" fill="#2f62c0"/><path d="M385.6 224.51L387 225.91L385.6 227.31L384.2 225.91Z" fill="#2f62c0"/><path d="M389.1 223.68L390.5 225.08L389.1 226.48L387.7 225.08Z" fill="#2f62c0"/><path d="M392.6 223.68L394 225.08L392.6 226.48L391.2 225.08Z" fill="#2f62c0"/><path d="M396.1 223.68L397.5 225.08L396.1 226.48L394.7 225.08Z" fill="#2f62c0"/><path d="M399.6 223.68L401 225.08L399.6 226.48L398.2 225.08Z" fill="#2f62c0"/><path d="M403.1 223.68L404.5 225.08L403.1 226.48L401.7 225.08Z" fill="#2f62c0"/><path d="M406.6 223.68L408 225.08L406.6 226.48L405.2 225.08Z" fill="#2f62c0"/><path d="M410.1 223.68L411.5 225.08L410.1 226.48L408.7 225.08Z" fill="#2f62c0"/><path d="M413.6 223.68L415 225.08L413.6 226.48L412.2 225.08Z" fill="#2f62c0"/><path d="M417.1 223.68L418.5 225.08L417.1 226.48L415.7 225.08Z" fill="#2f62c0"/><path d="M420.6 223.68L422 225.08L420.6 226.48L419.2 225.08Z" fill="#2f62c0"/><path d="M424.1 223.68L425.5 225.08L424.1 226.48L422.7 225.08Z" fill="#2f62c0"/><path d="M427.6 223.68L429 225.08L427.6 226.48L426.2 225.08Z" fill="#2f62c0"/><path d="M431.1 223.68L432.5 225.08L431.1 226.48L429.7 225.08Z" fill="#2f62c0"/><path d="M434.6 223.68L436 225.08L434.6 226.48L433.2 225.08Z" fill="#2f62c0"/><path d="M438.1 223.68L439.5 225.08L438.1 226.48L436.7 225.08Z" fill="#2f62c0"/><path d="M441.6 225.17L443 226.57L441.6 227.97L440.2 226.57Z" fill="#2f62c0"/><path d="M445.1 225.5L446.5 226.9L445.1 228.3L443.7 226.9Z" fill="#2f62c0"/><path d="M448.6 223.51L450 224.91L448.6 226.31L447.2 224.91Z" fill="#2f62c0"/><path d="M452.1 223.51L453.5 224.91L452.1 226.31L450.7 224.91Z" fill="#2f62c0"/><path d="M455.6 223.51L457 224.91L455.6 226.31L454.2 224.91Z" fill="#2f62c0"/><path d="M459.1 223.51L460.5 224.91L459.1 226.31L457.7 224.91Z" fill="#2f62c0"/><path d="M462.6 223.51L464 224.91L462.6 226.31L461.2 224.91Z" fill="#2f62c0"/><path d="M466.1 223.51L467.5 224.91L466.1 226.31L464.7 224.91Z" fill="#2f62c0"/><path d="M469.6 223.51L471 224.91L469.6 226.31L468.2 224.91Z" fill="#2f62c0"/><path d="M473.1 223.51L474.5 224.91L473.1 226.31L471.7 224.91Z" fill="#2f62c0"/><path d="M476.6 223.51L478 224.91L476.6 226.31L475.2 224.91Z" fill="#2f62c0"/><path d="M480.1 223.51L481.5 224.91L480.1 226.31L478.7 224.91Z" fill="#2f62c0"/><path d="M483.6 223.51L485 224.91L483.6 226.31L482.2 224.91Z" fill="#2f62c0"/><path d="M487.1 223.51L488.5 224.91L487.1 226.31L485.7 224.91Z" fill="#2f62c0"/><path d="M490.6 223.51L492 224.91L490.6 226.31L489.2 224.91Z" fill="#2f62c0"/><path d="M494.1 223.51L495.5 224.91L494.1 226.31L492.7 224.91Z" fill="#2f62c0"/><path d="M497.6 223.51L499 224.91L497.6 226.31L496.2 224.91Z" fill="#2f62c0"/><path d="M501.1 223.51L502.5 224.91L501.1 226.31L499.7 224.91Z" fill="#2f62c0"/><path d="M504.6 223.51L506 224.91L504.6 226.31L503.2 224.91Z" fill="#2f62c0"/><path d="M508.1 223.51L509.5 224.91L508.1 226.31L506.7 224.91Z" fill="#2f62c0"/><path d="M511.6 224.84L513 226.24L511.6 227.64L510.2 226.24Z" fill="#2f62c0"/>
<path d="M371.6 189.53 L375.1 218.8 L378.6 238.8 L382.1 207.55 L385.6 226.73 L389.1 214.66 L392.6 222.1 L396.1 219.29 L399.6 219.62 L403.1 219.13 L406.6 219.29 L410.1 219.29 L413.6 219.29 L417.1 219.29 L420.6 219.29 L424.1 219.29 L427.6 219.29 L431.1 219.29 L434.6 219.29 L438.1 219.29 L441.6 219.29 L445.1 219.29 L448.6 219.29 L452.1 219.29 L455.6 219.29 L459.1 219.29 L462.6 219.29 L466.1 219.29 L469.6 219.29 L473.1 219.29 L476.6 219.29 L480.1 219.29 L483.6 219.29 L487.1 219.29 L490.6 219.29 L494.1 219.29 L497.6 219.29 L501.1 219.29 L504.6 219.29 L508.1 219.29 L511.6 219.29" stroke="#ed7d31" stroke-width="1.3" fill="none" stroke-linejoin="round"/>
<rect x="370.48" y="188.41" width="2.24" height="2.24" fill="#ed7d31"/><rect x="373.98" y="217.68" width="2.24" height="2.24" fill="#ed7d31"/><rect x="377.48" y="237.68" width="2.24" height="2.24" fill="#ed7d31"/><rect x="380.98" y="206.43" width="2.24" height="2.24" fill="#ed7d31"/><rect x="384.48" y="225.61" width="2.24" height="2.24" fill="#ed7d31"/><rect x="387.98" y="213.54" width="2.24" height="2.24" fill="#ed7d31"/><rect x="391.48" y="220.98" width="2.24" height="2.24" fill="#ed7d31"/><rect x="394.98" y="218.17" width="2.24" height="2.24" fill="#ed7d31"/><rect x="398.48" y="218.5" width="2.24" height="2.24" fill="#ed7d31"/><rect x="401.98" y="218.01" width="2.24" height="2.24" fill="#ed7d31"/><rect x="405.48" y="218.17" width="2.24" height="2.24" fill="#ed7d31"/><rect x="408.98" y="218.17" width="2.24" height="2.24" fill="#ed7d31"/><rect x="412.48" y="218.17" width="2.24" height="2.24" fill="#ed7d31"/><rect x="415.98" y="218.17" width="2.24" height="2.24" fill="#ed7d31"/><rect x="419.48" y="218.17" width="2.24" height="2.24" fill="#ed7d31"/><rect x="422.98" y="218.17" width="2.24" height="2.24" fill="#ed7d31"/><rect x="426.48" y="218.17" width="2.24" height="2.24" fill="#ed7d31"/><rect x="429.98" y="218.17" width="2.24" height="2.24" fill="#ed7d31"/><rect x="433.48" y="218.17" width="2.24" height="2.24" fill="#ed7d31"/><rect x="436.98" y="218.17" width="2.24" height="2.24" fill="#ed7d31"/><rect x="440.48" y="218.17" width="2.24" height="2.24" fill="#ed7d31"/><rect x="443.98" y="218.17" width="2.24" height="2.24" fill="#ed7d31"/><rect x="447.48" y="218.17" width="2.24" height="2.24" fill="#ed7d31"/><rect x="450.98" y="218.17" width="2.24" height="2.24" fill="#ed7d31"/><rect x="454.48" y="218.17" width="2.24" height="2.24" fill="#ed7d31"/><rect x="457.98" y="218.17" width="2.24" height="2.24" fill="#ed7d31"/><rect x="461.48" y="218.17" width="2.24" height="2.24" fill="#ed7d31"/><rect x="464.98" y="218.17" width="2.24" height="2.24" fill="#ed7d31"/><rect x="468.48" y="218.17" width="2.24" height="2.24" fill="#ed7d31"/><rect x="471.98" y="218.17" width="2.24" height="2.24" fill="#ed7d31"/><rect x="475.48" y="218.17" width="2.24" height="2.24" fill="#ed7d31"/><rect x="478.98" y="218.17" width="2.24" height="2.24" fill="#ed7d31"/><rect x="482.48" y="218.17" width="2.24" height="2.24" fill="#ed7d31"/><rect x="485.98" y="218.17" width="2.24" height="2.24" fill="#ed7d31"/><rect x="489.48" y="218.17" width="2.24" height="2.24" fill="#ed7d31"/><rect x="492.98" y="218.17" width="2.24" height="2.24" fill="#ed7d31"/><rect x="496.48" y="218.17" width="2.24" height="2.24" fill="#ed7d31"/><rect x="499.98" y="218.17" width="2.24" height="2.24" fill="#ed7d31"/><rect x="503.48" y="218.17" width="2.24" height="2.24" fill="#ed7d31"/><rect x="506.98" y="218.17" width="2.24" height="2.24" fill="#ed7d31"/><rect x="510.48" y="218.17" width="2.24" height="2.24" fill="#ed7d31"/>
<path d="M371.6 189.53 L375.1 218.8 L378.6 238.8 L382.1 207.55 L385.6 226.73 L389.1 214.66 L392.6 222.6 L396.1 219.95 L399.6 220.29 L403.1 219.79 L406.6 219.95 L410.1 219.95 L413.6 219.95 L417.1 219.95 L420.6 219.95 L424.1 219.95 L427.6 219.95 L431.1 219.95 L434.6 219.95 L438.1 219.95 L441.6 219.95 L445.1 219.95 L448.6 219.95 L452.1 219.95 L455.6 219.95 L459.1 219.95 L462.6 219.95 L466.1 219.95 L469.6 219.95 L473.1 219.95 L476.6 219.95 L480.1 219.95 L483.6 219.95 L487.1 219.95 L490.6 219.95 L494.1 219.95 L497.6 219.95 L501.1 219.95 L504.6 219.95 L508.1 219.95 L511.6 219.95" stroke="#9b9b9b" stroke-width="1.3" fill="none" stroke-linejoin="round"/>
<path d="M371.6 188.13L373 190.65L370.2 190.65Z" fill="#9b9b9b"/><path d="M375.1 217.4L376.5 219.92L373.7 219.92Z" fill="#9b9b9b"/><path d="M378.6 237.4L380 239.92L377.2 239.92Z" fill="#9b9b9b"/><path d="M382.1 206.15L383.5 208.67L380.7 208.67Z" fill="#9b9b9b"/><path d="M385.6 225.33L387 227.85L384.2 227.85Z" fill="#9b9b9b"/><path d="M389.1 213.26L390.5 215.78L387.7 215.78Z" fill="#9b9b9b"/><path d="M392.6 221.2L394 223.72L391.2 223.72Z" fill="#9b9b9b"/><path d="M396.1 218.55L397.5 221.07L394.7 221.07Z" fill="#9b9b9b"/><path d="M399.6 218.89L401 221.41L398.2 221.41Z" fill="#9b9b9b"/><path d="M403.1 218.39L404.5 220.91L401.7 220.91Z" fill="#9b9b9b"/><path d="M406.6 218.55L408 221.07L405.2 221.07Z" fill="#9b9b9b"/><path d="M410.1 218.55L411.5 221.07L408.7 221.07Z" fill="#9b9b9b"/><path d="M413.6 218.55L415 221.07L412.2 221.07Z" fill="#9b9b9b"/><path d="M417.1 218.55L418.5 221.07L415.7 221.07Z" fill="#9b9b9b"/><path d="M420.6 218.55L422 221.07L419.2 221.07Z" fill="#9b9b9b"/><path d="M424.1 218.55L425.5 221.07L422.7 221.07Z" fill="#9b9b9b"/><path d="M427.6 218.55L429 221.07L426.2 221.07Z" fill="#9b9b9b"/><path d="M431.1 218.55L432.5 221.07L429.7 221.07Z" fill="#9b9b9b"/><path d="M434.6 218.55L436 221.07L433.2 221.07Z" fill="#9b9b9b"/><path d="M438.1 218.55L439.5 221.07L436.7 221.07Z" fill="#9b9b9b"/><path d="M441.6 218.55L443 221.07L440.2 221.07Z" fill="#9b9b9b"/><path d="M445.1 218.55L446.5 221.07L443.7 221.07Z" fill="#9b9b9b"/><path d="M448.6 218.55L450 221.07L447.2 221.07Z" fill="#9b9b9b"/><path d="M452.1 218.55L453.5 221.07L450.7 221.07Z" fill="#9b9b9b"/><path d="M455.6 218.55L457 221.07L454.2 221.07Z" fill="#9b9b9b"/><path d="M459.1 218.55L460.5 221.07L457.7 221.07Z" fill="#9b9b9b"/><path d="M462.6 218.55L464 221.07L461.2 221.07Z" fill="#9b9b9b"/><path d="M466.1 218.55L467.5 221.07L464.7 221.07Z" fill="#9b9b9b"/><path d="M469.6 218.55L471 221.07L468.2 221.07Z" fill="#9b9b9b"/><path d="M473.1 218.55L474.5 221.07L471.7 221.07Z" fill="#9b9b9b"/><path d="M476.6 218.55L478 221.07L475.2 221.07Z" fill="#9b9b9b"/><path d="M480.1 218.55L481.5 221.07L478.7 221.07Z" fill="#9b9b9b"/><path d="M483.6 218.55L485 221.07L482.2 221.07Z" fill="#9b9b9b"/><path d="M487.1 218.55L488.5 221.07L485.7 221.07Z" fill="#9b9b9b"/><path d="M490.6 218.55L492 221.07L489.2 221.07Z" fill="#9b9b9b"/><path d="M494.1 218.55L495.5 221.07L492.7 221.07Z" fill="#9b9b9b"/><path d="M497.6 218.55L499 221.07L496.2 221.07Z" fill="#9b9b9b"/><path d="M501.1 218.55L502.5 221.07L499.7 221.07Z" fill="#9b9b9b"/><path d="M504.6 218.55L506 221.07L503.2 221.07Z" fill="#9b9b9b"/><path d="M508.1 218.55L509.5 221.07L506.7 221.07Z" fill="#9b9b9b"/><path d="M511.6 218.55L513 221.07L510.2 221.07Z" fill="#9b9b9b"/>
<path d="M371.6 189.53 L375.1 218.8 L378.6 238.8 L382.1 207.55 L385.6 226.73 L389.1 214.66 L392.6 222.1 L396.1 219.46 L399.6 219.79 L403.1 219.46 L406.6 219.69 L410.1 219.69 L413.6 219.69 L417.1 219.69 L420.6 219.69 L424.1 219.69 L427.6 219.69 L431.1 219.69 L434.6 219.69 L438.1 219.69 L441.6 219.69 L445.1 219.69 L448.6 219.69 L452.1 219.69 L455.6 219.69 L459.1 219.69 L462.6 219.69 L466.1 219.69 L469.6 219.69 L473.1 219.69 L476.6 219.69 L480.1 219.69 L483.6 219.69 L487.1 219.69 L490.6 219.69 L494.1 219.69 L497.6 219.69 L501.1 219.69 L504.6 219.69 L508.1 219.69 L511.6 219.69" stroke="#ffc000" stroke-width="1.3" fill="none" stroke-linejoin="round"/>
<path d="M370.2 188.13L373 190.93M373 188.13L370.2 190.93" stroke="#ffc000" stroke-width="0.8" fill="none"/><path d="M373.7 217.4L376.5 220.2M376.5 217.4L373.7 220.2" stroke="#ffc000" stroke-width="0.8" fill="none"/><path d="M377.2 237.4L380 240.2M380 237.4L377.2 240.2" stroke="#ffc000" stroke-width="0.8" fill="none"/><path d="M380.7 206.15L383.5 208.95M383.5 206.15L380.7 208.95" stroke="#ffc000" stroke-width="0.8" fill="none"/><path d="M384.2 225.33L387 228.13M387 225.33L384.2 228.13" stroke="#ffc000" stroke-width="0.8" fill="none"/><path d="M387.7 213.26L390.5 216.06M390.5 213.26L387.7 216.06" stroke="#ffc000" stroke-width="0.8" fill="none"/><path d="M391.2 220.7L394 223.5M394 220.7L391.2 223.5" stroke="#ffc000" stroke-width="0.8" fill="none"/><path d="M394.7 218.06L397.5 220.86M397.5 218.06L394.7 220.86" stroke="#ffc000" stroke-width="0.8" fill="none"/><path d="M398.2 218.39L401 221.19M401 218.39L398.2 221.19" stroke="#ffc000" stroke-width="0.8" fill="none"/><path d="M401.7 218.06L404.5 220.86M404.5 218.06L401.7 220.86" stroke="#ffc000" stroke-width="0.8" fill="none"/><path d="M405.2 218.29L408 221.09M408 218.29L405.2 221.09" stroke="#ffc000" stroke-width="0.8" fill="none"/><path d="M408.7 218.29L411.5 221.09M411.5 218.29L408.7 221.09" stroke="#ffc000" stroke-width="0.8" fill="none"/><path d="M412.2 218.29L415 221.09M415 218.29L412.2 221.09" stroke="#ffc000" stroke-width="0.8" fill="none"/><path d="M415.7 218.29L418.5 221.09M418.5 218.29L415.7 221.09" stroke="#ffc000" stroke-width="0.8" fill="none"/><path d="M419.2 218.29L422 221.09M422 218.29L419.2 221.09" stroke="#ffc000" stroke-width="0.8" fill="none"/><path d="M422.7 218.29L425.5 221.09M425.5 218.29L422.7 221.09" stroke="#ffc000" stroke-width="0.8" fill="none"/><path d="M426.2 218.29L429 221.09M429 218.29L426.2 221.09" stroke="#ffc000" stroke-width="0.8" fill="none"/><path d="M429.7 218.29L432.5 221.09M432.5 218.29L429.7 221.09" stroke="#ffc000" stroke-width="0.8" fill="none"/><path d="M433.2 218.29L436 221.09M436 218.29L433.2 221.09" stroke="#ffc000" stroke-width="0.8" fill="none"/><path d="M436.7 218.29L439.5 221.09M439.5 218.29L436.7 221.09" stroke="#ffc000" stroke-width="0.8" fill="none"/><path d="M440.2 218.29L443 221.09M443 218.29L440.2 221.09" stroke="#ffc000" stroke-width="0.8" fill="none"/><path d="M443.7 218.29L446.5 221.09M446.5 218.29L443.7 221.09" stroke="#ffc000" stroke-width="0.8" fill="none"/><path d="M447.2 218.29L450 221.09M450 218.29L447.2 221.09" stroke="#ffc000" stroke-width="0.8" fill="none"/><path d="M450.7 218.29L453.5 221.09M453.5 218.29L450.7 221.09" stroke="#ffc000" stroke-width="0.8" fill="none"/><path d="M454.2 218.29L457 221.09M457 218.29L454.2 221.09" stroke="#ffc000" stroke-width="0.8" fill="none"/><path d="M457.7 218.29L460.5 221.09M460.5 218.29L457.7 221.09" stroke="#ffc000" stroke-width="0.8" fill="none"/><path d="M461.2 218.29L464 221.09M464 218.29L461.2 221.09" stroke="#ffc000" stroke-width="0.8" fill="none"/><path d="M464.7 218.29L467.5 221.09M467.5 218.29L464.7 221.09" stroke="#ffc000" stroke-width="0.8" fill="none"/><path d="M468.2 218.29L471 221.09M471 218.29L468.2 221.09" stroke="#ffc000" stroke-width="0.8" fill="none"/><path d="M471.7 218.29L474.5 221.09M474.5 218.29L471.7 221.09" stroke="#ffc000" stroke-width="0.8" fill="none"/><path d="M475.2 218.29L478 221.09M478 218.29L475.2 221.09" stroke="#ffc000" stroke-width="0.8" fill="none"/><path d="M478.7 218.29L481.5 221.09M481.5 218.29L478.7 221.09" stroke="#ffc000" stroke-width="0.8" fill="none"/><path d="M482.2 218.29L485 221.09M485 218.29L482.2 221.09" stroke="#ffc000" stroke-width="0.8" fill="none"/><path d="M485.7 218.29L488.5 221.09M488.5 218.29L485.7 221.09" stroke="#ffc000" stroke-width="0.8" fill="none"/><path d="M489.2 218.29L492 221.09M492 218.29L489.2 221.09" stroke="#ffc000" stroke-width="0.8" fill="none"/><path d="M492.7 218.29L495.5 221.09M495.5 218.29L492.7 221.09" stroke="#ffc000" stroke-width="0.8" fill="none"/><path d="M496.2 218.29L499 221.09M499 218.29L496.2 221.09" stroke="#ffc000" stroke-width="0.8" fill="none"/><path d="M499.7 218.29L502.5 221.09M502.5 218.29L499.7 221.09" stroke="#ffc000" stroke-width="0.8" fill="none"/><path d="M503.2 218.29L506 221.09M506 218.29L503.2 221.09" stroke="#ffc000" stroke-width="0.8" fill="none"/><path d="M506.7 218.29L509.5 221.09M509.5 218.29L506.7 221.09" stroke="#ffc000" stroke-width="0.8" fill="none"/><path d="M510.2 218.29L513 221.09M513 218.29L510.2 221.09" stroke="#ffc000" stroke-width="0.8" fill="none"/>
<path d="M371.6 189.53 L375.1 218.8 L378.6 238.8 L382.1 207.55 L385.6 226.73 L389.1 214.66 L392.6 223.26 L396.1 222.1 L399.6 221.11 L403.1 221.61 L406.6 221.61 L410.1 221.61 L413.6 221.61 L417.1 221.61 L420.6 221.61 L424.1 221.61 L427.6 221.61 L431.1 221.61 L434.6 221.61 L438.1 221.61 L441.6 221.61 L445.1 221.61 L448.6 221.61 L452.1 221.61 L455.6 221.61 L459.1 221.61 L462.6 221.61 L466.1 221.61 L469.6 221.61 L473.1 221.61 L476.6 221.61 L480.1 221.61 L483.6 221.61 L487.1 221.61 L490.6 221.61 L494.1 221.61 L497.6 221.61 L501.1 221.61 L504.6 221.61 L508.1 221.61 L511.6 221.61" stroke="#4c91d4" stroke-width="1.3" fill="none" stroke-linejoin="round"/>
<path d="M370.62 188.55L372.58 190.51M372.58 188.55L370.62 190.51M371.6 187.85L371.6 191.21" stroke="#4c91d4" stroke-width="0.7" fill="none"/><path d="M374.12 217.82L376.08 219.78M376.08 217.82L374.12 219.78M375.1 217.12L375.1 220.48" stroke="#4c91d4" stroke-width="0.7" fill="none"/><path d="M377.62 237.82L379.58 239.78M379.58 237.82L377.62 239.78M378.6 237.12L378.6 240.48" stroke="#4c91d4" stroke-width="0.7" fill="none"/><path d="M381.12 206.57L383.08 208.53M383.08 206.57L381.12 208.53M382.1 205.87L382.1 209.23" stroke="#4c91d4" stroke-width="0.7" fill="none"/><path d="M384.62 225.75L386.58 227.71M386.58 225.75L384.62 227.71M385.6 225.05L385.6 228.41" stroke="#4c91d4" stroke-width="0.7" fill="none"/><path d="M388.12 213.68L390.08 215.64M390.08 213.68L388.12 215.64M389.1 212.98L389.1 216.34" stroke="#4c91d4" stroke-width="0.7" fill="none"/><path d="M391.62 222.28L393.58 224.24M393.58 222.28L391.62 224.24M392.6 221.58L392.6 224.94" stroke="#4c91d4" stroke-width="0.7" fill="none"/><path d="M395.12 221.12L397.08 223.08M397.08 221.12L395.12 223.08M396.1 220.42L396.1 223.78" stroke="#4c91d4" stroke-width="0.7" fill="none"/><path d="M398.62 220.13L400.58 222.09M400.58 220.13L398.62 222.09M399.6 219.43L399.6 222.79" stroke="#4c91d4" stroke-width="0.7" fill="none"/><path d="M402.12 220.63L404.08 222.59M404.08 220.63L402.12 222.59M403.1 219.93L403.1 223.29" stroke="#4c91d4" stroke-width="0.7" fill="none"/><path d="M405.62 220.63L407.58 222.59M407.58 220.63L405.62 222.59M406.6 219.93L406.6 223.29" stroke="#4c91d4" stroke-width="0.7" fill="none"/><path d="M409.12 220.63L411.08 222.59M411.08 220.63L409.12 222.59M410.1 219.93L410.1 223.29" stroke="#4c91d4" stroke-width="0.7" fill="none"/><path d="M412.62 220.63L414.58 222.59M414.58 220.63L412.62 222.59M413.6 219.93L413.6 223.29" stroke="#4c91d4" stroke-width="0.7" fill="none"/><path d="M416.12 220.63L418.08 222.59M418.08 220.63L416.12 222.59M417.1 219.93L417.1 223.29" stroke="#4c91d4" stroke-width="0.7" fill="none"/><path d="M419.62 220.63L421.58 222.59M421.58 220.63L419.62 222.59M420.6 219.93L420.6 223.29" stroke="#4c91d4" stroke-width="0.7" fill="none"/><path d="M423.12 220.63L425.08 222.59M425.08 220.63L423.12 222.59M424.1 219.93L424.1 223.29" stroke="#4c91d4" stroke-width="0.7" fill="none"/><path d="M426.62 220.63L428.58 222.59M428.58 220.63L426.62 222.59M427.6 219.93L427.6 223.29" stroke="#4c91d4" stroke-width="0.7" fill="none"/><path d="M430.12 220.63L432.08 222.59M432.08 220.63L430.12 222.59M431.1 219.93L431.1 223.29" stroke="#4c91d4" stroke-width="0.7" fill="none"/><path d="M433.62 220.63L435.58 222.59M435.58 220.63L433.62 222.59M434.6 219.93L434.6 223.29" stroke="#4c91d4" stroke-width="0.7" fill="none"/><path d="M437.12 220.63L439.08 222.59M439.08 220.63L437.12 222.59M438.1 219.93L438.1 223.29" stroke="#4c91d4" stroke-width="0.7" fill="none"/><path d="M440.62 220.63L442.58 222.59M442.58 220.63L440.62 222.59M441.6 219.93L441.6 223.29" stroke="#4c91d4" stroke-width="0.7" fill="none"/><path d="M444.12 220.63L446.08 222.59M446.08 220.63L444.12 222.59M445.1 219.93L445.1 223.29" stroke="#4c91d4" stroke-width="0.7" fill="none"/><path d="M447.62 220.63L449.58 222.59M449.58 220.63L447.62 222.59M448.6 219.93L448.6 223.29" stroke="#4c91d4" stroke-width="0.7" fill="none"/><path d="M451.12 220.63L453.08 222.59M453.08 220.63L451.12 222.59M452.1 219.93L452.1 223.29" stroke="#4c91d4" stroke-width="0.7" fill="none"/><path d="M454.62 220.63L456.58 222.59M456.58 220.63L454.62 222.59M455.6 219.93L455.6 223.29" stroke="#4c91d4" stroke-width="0.7" fill="none"/><path d="M458.12 220.63L460.08 222.59M460.08 220.63L458.12 222.59M459.1 219.93L459.1 223.29" stroke="#4c91d4" stroke-width="0.7" fill="none"/><path d="M461.62 220.63L463.58 222.59M463.58 220.63L461.62 222.59M462.6 219.93L462.6 223.29" stroke="#4c91d4" stroke-width="0.7" fill="none"/><path d="M465.12 220.63L467.08 222.59M467.08 220.63L465.12 222.59M466.1 219.93L466.1 223.29" stroke="#4c91d4" stroke-width="0.7" fill="none"/><path d="M468.62 220.63L470.58 222.59M470.58 220.63L468.62 222.59M469.6 219.93L469.6 223.29" stroke="#4c91d4" stroke-width="0.7" fill="none"/><path d="M472.12 220.63L474.08 222.59M474.08 220.63L472.12 222.59M473.1 219.93L473.1 223.29" stroke="#4c91d4" stroke-width="0.7" fill="none"/><path d="M475.62 220.63L477.58 222.59M477.58 220.63L475.62 222.59M476.6 219.93L476.6 223.29" stroke="#4c91d4" stroke-width="0.7" fill="none"/><path d="M479.12 220.63L481.08 222.59M481.08 220.63L479.12 222.59M480.1 219.93L480.1 223.29" stroke="#4c91d4" stroke-width="0.7" fill="none"/><path d="M482.62 220.63L484.58 222.59M484.58 220.63L482.62 222.59M483.6 219.93L483.6 223.29" stroke="#4c91d4" stroke-width="0.7" fill="none"/><path d="M486.12 220.63L488.08 222.59M488.08 220.63L486.12 222.59M487.1 219.93L487.1 223.29" stroke="#4c91d4" stroke-width="0.7" fill="none"/><path d="M489.62 220.63L491.58 222.59M491.58 220.63L489.62 222.59M490.6 219.93L490.6 223.29" stroke="#4c91d4" stroke-width="0.7" fill="none"/><path d="M493.12 220.63L495.08 222.59M495.08 220.63L493.12 222.59M494.1 219.93L494.1 223.29" stroke="#4c91d4" stroke-width="0.7" fill="none"/><path d="M496.62 220.63L498.58 222.59M498.58 220.63L496.62 222.59M497.6 219.93L497.6 223.29" stroke="#4c91d4" stroke-width="0.7" fill="none"/><path d="M500.12 220.63L502.08 222.59M502.08 220.63L500.12 222.59M501.1 219.93L501.1 223.29" stroke="#4c91d4" stroke-width="0.7" fill="none"/><path d="M503.62 220.63L505.58 222.59M505.58 220.63L503.62 222.59M504.6 219.93L504.6 223.29" stroke="#4c91d4" stroke-width="0.7" fill="none"/><path d="M507.12 220.63L509.08 222.59M509.08 220.63L507.12 222.59M508.1 219.93L508.1 223.29" stroke="#4c91d4" stroke-width="0.7" fill="none"/><path d="M510.62 220.63L512.58 222.59M512.58 220.63L510.62 222.59M511.6 219.93L511.6 223.29" stroke="#4c91d4" stroke-width="0.7" fill="none"/>
<path d="M371.6 189.53 L375.1 218.8 L378.6 238.8 L382.1 207.55 L385.6 226.73 L389.1 214.66 L392.6 222.1 L396.1 216.65 L399.6 216.15 L403.1 217.31 L406.6 216.81 L410.1 216.81 L413.6 216.81 L417.1 216.81 L420.6 216.81 L424.1 216.81 L427.6 216.81 L431.1 216.81 L434.6 216.81 L438.1 216.81 L441.6 216.81 L445.1 216.81 L448.6 216.81 L452.1 216.81 L455.6 216.81 L459.1 216.81 L462.6 216.81 L466.1 216.81 L469.6 216.81 L473.1 216.81 L476.6 216.81 L480.1 216.81 L483.6 216.81 L487.1 216.81 L490.6 216.81 L494.1 216.81 L497.6 216.81 L501.1 216.81 L504.6 216.81 L508.1 216.81 L511.6 216.81" stroke="#70ad47" stroke-width="1.3" fill="none" stroke-linejoin="round"/>
<circle cx="371.6" cy="189.53" r="1.26" fill="#70ad47"/><circle cx="375.1" cy="218.8" r="1.26" fill="#70ad47"/><circle cx="378.6" cy="238.8" r="1.26" fill="#70ad47"/><circle cx="382.1" cy="207.55" r="1.26" fill="#70ad47"/><circle cx="385.6" cy="226.73" r="1.26" fill="#70ad47"/><circle cx="389.1" cy="214.66" r="1.26" fill="#70ad47"/><circle cx="392.6" cy="222.1" r="1.26" fill="#70ad47"/><circle cx="396.1" cy="216.65" r="1.26" fill="#70ad47"/><circle cx="399.6" cy="216.15" r="1.26" fill="#70ad47"/><circle cx="403.1" cy="217.31" r="1.26" fill="#70ad47"/><circle cx="406.6" cy="216.81" r="1.26" fill="#70ad47"/><circle cx="410.1" cy="216.81" r="1.26" fill="#70ad47"/><circle cx="413.6" cy="216.81" r="1.26" fill="#70ad47"/><circle cx="417.1" cy="216.81" r="1.26" fill="#70ad47"/><circle cx="420.6" cy="216.81" r="1.26" fill="#70ad47"/><circle cx="424.1" cy="216.81" r="1.26" fill="#70ad47"/><circle cx="427.6" cy="216.81" r="1.26" fill="#70ad47"/><circle cx="431.1" cy="216.81" r="1.26" fill="#70ad47"/><circle cx="434.6" cy="216.81" r="1.26" fill="#70ad47"/><circle cx="438.1" cy="216.81" r="1.26" fill="#70ad47"/><circle cx="441.6" cy="216.81" r="1.26" fill="#70ad47"/><circle cx="445.1" cy="216.81" r="1.26" fill="#70ad47"/><circle cx="448.6" cy="216.81" r="1.26" fill="#70ad47"/><circle cx="452.1" cy="216.81" r="1.26" fill="#70ad47"/><circle cx="455.6" cy="216.81" r="1.26" fill="#70ad47"/><circle cx="459.1" cy="216.81" r="1.26" fill="#70ad47"/><circle cx="462.6" cy="216.81" r="1.26" fill="#70ad47"/><circle cx="466.1" cy="216.81" r="1.26" fill="#70ad47"/><circle cx="469.6" cy="216.81" r="1.26" fill="#70ad47"/><circle cx="473.1" cy="216.81" r="1.26" fill="#70ad47"/><circle cx="476.6" cy="216.81" r="1.26" fill="#70ad47"/><circle cx="480.1" cy="216.81" r="1.26" fill="#70ad47"/><circle cx="483.6" cy="216.81" r="1.26" fill="#70ad47"/><circle cx="487.1" cy="216.81" r="1.26" fill="#70ad47"/><circle cx="490.6" cy="216.81" r="1.26" fill="#70ad47"/><circle cx="494.1" cy="216.81" r="1.26" fill="#70ad47"/><circle cx="497.6" cy="216.81" r="1.26" fill="#70ad47"/><circle cx="501.1" cy="216.81" r="1.26" fill="#70ad47"/><circle cx="504.6" cy="216.81" r="1.26" fill="#70ad47"/><circle cx="508.1" cy="216.81" r="1.26" fill="#70ad47"/><circle cx="511.6" cy="216.81" r="1.26" fill="#70ad47"/>
<rect x="302.1" y="256" width="210.6" height="15.8" fill="#fff"/>
<path d="M311.8 259.3H326.1" stroke="#2f62c0" stroke-width="1.3"/>
<path d="M318.95 257.9L320.35 259.3L318.95 260.7L317.55 259.3Z" fill="#2f62c0"/>
<text x="327.4" y="261.1" font-size="6.3" text-anchor="start" fill="#646464" font-family="'Liberation Sans', Arial, sans-serif" textLength="30" lengthAdjust="spacingAndGlyphs">bandwidth</text>
<path d="M381.8 259.3H395.3" stroke="#ed7d31" stroke-width="1.3"/>
<rect x="387.43" y="258.18" width="2.24" height="2.24" fill="#ed7d31"/>
<text x="396.6" y="261.1" font-size="6.3" text-anchor="start" fill="#646464" font-family="'Liberation Sans', Arial, sans-serif" textLength="37" lengthAdjust="spacingAndGlyphs">interval-VM0</text>
<path d="M452 259.3H465.5" stroke="#9b9b9b" stroke-width="1.3"/>
<path d="M458.75 257.9L460.15 260.42L457.35 260.42Z" fill="#9b9b9b"/>
<text x="466.8" y="261.1" font-size="6.3" text-anchor="start" fill="#646464" font-family="'Liberation Sans', Arial, sans-serif" textLength="37" lengthAdjust="spacingAndGlyphs">interval-VM1</text>
<path d="M311.8 267.4H326.1" stroke="#ffc000" stroke-width="1.3"/>
<path d="M317.55 266L320.35 268.8M320.35 266L317.55 268.8" stroke="#ffc000" stroke-width="0.8" fill="none"/>
<text x="327.4" y="269.2" font-size="6.3" text-anchor="start" fill="#646464" font-family="'Liberation Sans', Arial, sans-serif" textLength="37" lengthAdjust="spacingAndGlyphs">interval-VM2</text>
<path d="M381.8 267.4H395.3" stroke="#4c91d4" stroke-width="1.3"/>
<path d="M387.57 266.42L389.53 268.38M389.53 266.42L387.57 268.38M388.55 265.72L388.55 269.08" stroke="#4c91d4" stroke-width="0.7" fill="none"/>
<text x="396.6" y="269.2" font-size="6.3" text-anchor="start" fill="#646464" font-family="'Liberation Sans', Arial, sans-serif" textLength="37" lengthAdjust="spacingAndGlyphs">interval-VM3</text>
<path d="M452 267.4H465.5" stroke="#70ad47" stroke-width="1.3"/>
<circle cx="458.75" cy="267.4" r="1.26" fill="#70ad47"/>
<text x="466.8" y="269.2" font-size="6.3" text-anchor="start" fill="#646464" font-family="'Liberation Sans', Arial, sans-serif" textLength="37" lengthAdjust="spacingAndGlyphs">interval-VM4</text>
<rect x="301.6" y="173" width="211.6" height="99.2" fill="none" stroke="#404040" stroke-width="1.1" stroke-linejoin="round"/>
<path d="M300.1 255.67H301.6 M300.1 239.13H301.6 M300.1 222.6H301.6 M300.1 206.07H301.6 M300.1 189.53H301.6" stroke="#595959" stroke-width="0.8"/>
<text x="293.9" y="274.35" font-size="6.7" text-anchor="end" fill="#646464" font-family="'Liberation Sans', Arial, sans-serif" textLength="3.3" lengthAdjust="spacingAndGlyphs">0</text>
<text x="293.9" y="257.82" font-size="6.7" text-anchor="end" fill="#646464" font-family="'Liberation Sans', Arial, sans-serif" textLength="3.3" lengthAdjust="spacingAndGlyphs">1</text>
<text x="293.9" y="241.28" font-size="6.7" text-anchor="end" fill="#646464" font-family="'Liberation Sans', Arial, sans-serif" textLength="3.3" lengthAdjust="spacingAndGlyphs">2</text>
<text x="293.9" y="224.75" font-size="6.7" text-anchor="end" fill="#646464" font-family="'Liberation Sans', Arial, sans-serif" textLength="3.3" lengthAdjust="spacingAndGlyphs">3</text>
<text x="293.9" y="208.22" font-size="6.7" text-anchor="end" fill="#646464" font-family="'Liberation Sans', Arial, sans-serif" textLength="3.3" lengthAdjust="spacingAndGlyphs">4</text>
<text x="293.9" y="191.68" font-size="6.7" text-anchor="end" fill="#646464" font-family="'Liberation Sans', Arial, sans-serif" textLength="3.3" lengthAdjust="spacingAndGlyphs">5</text>
<text x="293.9" y="175.15" font-size="6.7" text-anchor="end" fill="#646464" font-family="'Liberation Sans', Arial, sans-serif" textLength="3.3" lengthAdjust="spacingAndGlyphs">6</text>
<text x="520.2" y="274.35" font-size="6.7" text-anchor="start" fill="#646464" font-family="'Liberation Sans', Arial, sans-serif" textLength="3.25" lengthAdjust="spacingAndGlyphs">0</text>
<text x="520.2" y="257.82" font-size="6.7" text-anchor="start" fill="#646464" font-family="'Liberation Sans', Arial, sans-serif" textLength="9.75" lengthAdjust="spacingAndGlyphs">500</text>
<text x="520.2" y="241.28" font-size="6.7" text-anchor="start" fill="#646464" font-family="'Liberation Sans', Arial, sans-serif" textLength="13" lengthAdjust="spacingAndGlyphs">1000</text>
<text x="520.2" y="224.75" font-size="6.7" text-anchor="start" fill="#646464" font-family="'Liberation Sans', Arial, sans-serif" textLength="13" lengthAdjust="spacingAndGlyphs">1500</text>
<text x="520.2" y="208.22" font-size="6.7" text-anchor="start" fill="#646464" font-family="'Liberation Sans', Arial, sans-serif" textLength="13" lengthAdjust="spacingAndGlyphs">2000</text>
<text x="520.2" y="191.68" font-size="6.7" text-anchor="start" fill="#646464" font-family="'Liberation Sans', Arial, sans-serif" textLength="13" lengthAdjust="spacingAndGlyphs">2500</text>
<text x="520.2" y="175.15" font-size="6.7" text-anchor="start" fill="#646464" font-family="'Liberation Sans', Arial, sans-serif" textLength="13" lengthAdjust="spacingAndGlyphs">3000</text>
<text x="301.6" y="282.8" font-size="6.4" text-anchor="middle" fill="#646464" font-family="'Liberation Sans', Arial, sans-serif" textLength="3.25" lengthAdjust="spacingAndGlyphs">0</text>
<text x="315.6" y="282.8" font-size="6.4" text-anchor="middle" fill="#646464" font-family="'Liberation Sans', Arial, sans-serif" textLength="3.25" lengthAdjust="spacingAndGlyphs">4</text>
<text x="329.6" y="282.8" font-size="6.4" text-anchor="middle" fill="#646464" font-family="'Liberation Sans', Arial, sans-serif" textLength="3.25" lengthAdjust="spacingAndGlyphs">8</text>
<text x="343.6" y="282.8" font-size="6.4" text-anchor="middle" fill="#646464" font-family="'Liberation Sans', Arial, sans-serif" textLength="6.5" lengthAdjust="spacingAndGlyphs">12</text>
<text x="357.6" y="282.8" font-size="6.4" text-anchor="middle" fill="#646464" font-family="'Liberation Sans', Arial, sans-serif" textLength="6.5" lengthAdjust="spacingAndGlyphs">16</text>
<text x="371.6" y="282.8" font-size="6.4" text-anchor="middle" fill="#646464" font-family="'Liberation Sans', Arial, sans-serif" textLength="6.5" lengthAdjust="spacingAndGlyphs">20</text>
<text x="385.6" y="282.8" font-size="6.4" text-anchor="middle" fill="#646464" font-family="'Liberation Sans', Arial, sans-serif" textLength="6.5" lengthAdjust="spacingAndGlyphs">24</text>
<text x="399.6" y="282.8" font-size="6.4" text-anchor="middle" fill="#646464" font-family="'Liberation Sans', Arial, sans-serif" textLength="6.5" lengthAdjust="spacingAndGlyphs">28</text>
<text x="413.6" y="282.8" font-size="6.4" text-anchor="middle" fill="#646464" font-family="'Liberation Sans', Arial, sans-serif" textLength="6.5" lengthAdjust="spacingAndGlyphs">32</text>
<text x="427.6" y="282.8" font-size="6.4" text-anchor="middle" fill="#646464" font-family="'Liberation Sans', Arial, sans-serif" textLength="6.5" lengthAdjust="spacingAndGlyphs">36</text>
<text x="441.6" y="282.8" font-size="6.4" text-anchor="middle" fill="#646464" font-family="'Liberation Sans', Arial, sans-serif" textLength="6.5" lengthAdjust="spacingAndGlyphs">40</text>
<text x="455.6" y="282.8" font-size="6.4" text-anchor="middle" fill="#646464" font-family="'Liberation Sans', Arial, sans-serif" textLength="6.5" lengthAdjust="spacingAndGlyphs">44</text>
<text x="469.6" y="282.8" font-size="6.4" text-anchor="middle" fill="#646464" font-family="'Liberation Sans', Arial, sans-serif" textLength="6.5" lengthAdjust="spacingAndGlyphs">48</text>
<text x="483.6" y="282.8" font-size="6.4" text-anchor="middle" fill="#646464" font-family="'Liberation Sans', Arial, sans-serif" textLength="6.5" lengthAdjust="spacingAndGlyphs">52</text>
<text x="497.6" y="282.8" font-size="6.4" text-anchor="middle" fill="#646464" font-family="'Liberation Sans', Arial, sans-serif" textLength="6.5" lengthAdjust="spacingAndGlyphs">56</text>
<text x="511.6" y="282.8" font-size="6.4" text-anchor="middle" fill="#646464" font-family="'Liberation Sans', Arial, sans-serif" textLength="6.5" lengthAdjust="spacingAndGlyphs">60</text>
<text x="407.4" y="289.5" font-size="7.2" text-anchor="middle" fill="#646464" font-family="'Liberation Sans', Arial, sans-serif" textLength="57.4" lengthAdjust="spacingAndGlyphs">Timeline (seconds)</text>
<text transform="translate(286.6 222.8) rotate(-90)" x="0" y="0" font-size="6.6" text-anchor="middle" fill="#646464" font-family="'Liberation Sans', Arial, sans-serif" textLength="83" lengthAdjust="spacingAndGlyphs">Network bandwidth (Gbps)</text>
<text transform="translate(543.3 223.1) rotate(-90)" x="0" y="0" font-size="6.6" text-anchor="middle" fill="#646464" font-family="'Liberation Sans', Arial, sans-serif" textLength="74.8" lengthAdjust="spacingAndGlyphs">Interval (microseconds)</text>
<text x="362.8" y="308.8" font-size="10.6" fill="#1a1a1a" stroke="#1a1a1a" stroke-width="0.18" font-family="'Liberation Serif', 'Times New Roman', serif" textLength="98" lengthAdjust="spacingAndGlyphs">(<tspan font-weight="bold">d</tspan>) 5 VMs, 1 Thread</text></svg>
</body></html>
